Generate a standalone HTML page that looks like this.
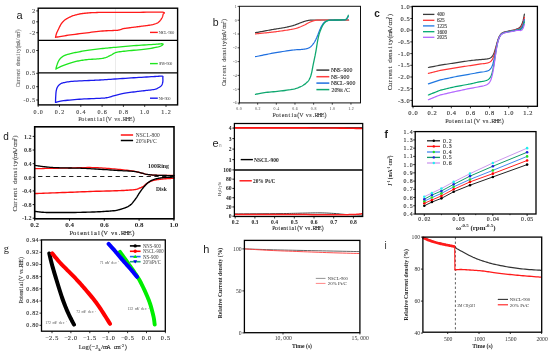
<!DOCTYPE html><html><head><meta charset="utf-8"><style>html,body{margin:0;padding:0;background:#fff;width:550px;height:354px;overflow:hidden}svg{display:block;will-change:transform}</style></head><body>
<svg width="550" height="354" viewBox="0 0 550 354">
<line x1="115.50" y1="8.20" x2="115.50" y2="104.90" stroke="#ddd" stroke-width="0.6" />
<polyline points="55.50,37.30 55.57,37.01 55.66,36.61 55.77,36.15 55.89,35.63 56.03,35.08 56.18,34.53 56.33,34.00 56.50,33.50 56.67,33.04 56.85,32.61 57.04,32.18 57.24,31.75 57.46,31.31 57.69,30.84 57.93,30.34 58.20,29.80 58.49,29.19 58.81,28.52 59.14,27.80 59.49,27.07 59.85,26.34 60.21,25.64 60.56,24.98 60.90,24.40 61.23,23.89 61.55,23.42 61.87,23.00 62.19,22.61 62.51,22.24 62.83,21.89 63.16,21.54 63.50,21.20 63.83,20.87 64.15,20.57 64.46,20.29 64.78,20.02 65.12,19.75 65.49,19.48 65.92,19.20 66.40,18.90 66.96,18.57 67.58,18.23 68.25,17.87 68.96,17.51 69.68,17.15 70.41,16.81 71.12,16.49 71.80,16.20 72.46,15.94 73.10,15.71 73.74,15.50 74.38,15.30 75.02,15.12 75.67,14.94 76.33,14.77 77.00,14.60 77.65,14.44 78.27,14.29 78.87,14.14 79.49,14.01 80.16,13.88 80.90,13.75 81.74,13.62 82.70,13.50 83.78,13.37 84.93,13.24 86.16,13.12 87.48,12.99 88.88,12.88 90.37,12.77 91.94,12.68 93.60,12.60 95.29,12.54 96.99,12.50 98.75,12.47 100.61,12.45 102.61,12.44 104.81,12.43 107.26,12.42 110.00,12.40 113.15,12.38 116.72,12.37 120.58,12.36 124.62,12.34 128.70,12.33 132.71,12.32 136.52,12.31 140.00,12.30 143.32,12.27 146.67,12.22 149.95,12.16 153.09,12.10 156.00,12.06 158.60,12.06 160.79,12.10 162.50,12.20 163.63,12.36 164.21,12.57 164.37,12.83 164.23,13.11 163.90,13.43 163.51,13.77 163.17,14.13 163.00,14.50 162.95,14.89 162.88,15.31 162.78,15.76 162.66,16.22 162.50,16.71 162.31,17.20 162.08,17.70 161.80,18.20 161.48,18.72 161.11,19.28 160.71,19.87 160.27,20.45 159.79,21.02 159.29,21.57 158.76,22.06 158.20,22.50 157.62,22.87 157.01,23.20 156.37,23.49 155.71,23.74 155.01,23.98 154.27,24.19 153.51,24.40 152.70,24.60 151.85,24.79 150.95,24.97 150.01,25.12 149.04,25.26 148.05,25.40 147.04,25.53 146.02,25.66 145.00,25.80 143.97,25.94 142.91,26.08 141.83,26.22 140.74,26.36 139.65,26.49 138.56,26.63 137.47,26.76 136.40,26.90 135.31,27.04 134.19,27.19 133.06,27.33 131.94,27.48 130.85,27.62 129.81,27.76 128.86,27.89 128.00,28.00 127.26,28.09 126.62,28.17 126.07,28.23 125.56,28.28 125.09,28.34 124.62,28.41 124.13,28.49 123.60,28.60 123.03,28.74 122.44,28.92 121.84,29.11 121.24,29.31 120.65,29.51 120.08,29.70 119.52,29.87 119.00,30.00 118.57,30.10 118.27,30.17 118.02,30.21 117.76,30.25 117.45,30.28 117.00,30.31 116.38,30.35 115.50,30.40 114.38,30.46 113.08,30.50 111.62,30.54 110.02,30.59 108.30,30.66 106.50,30.74 104.62,30.85 102.70,31.00 100.68,31.19 98.53,31.41 96.27,31.66 93.93,31.94 91.55,32.22 89.17,32.52 86.81,32.81 84.50,33.10 82.18,33.39 79.80,33.69 77.39,34.00 74.99,34.32 72.66,34.63 70.42,34.94 68.32,35.23 66.40,35.50 64.62,35.77 62.91,36.03 61.31,36.30 59.82,36.55 58.47,36.78 57.29,36.99 56.29,37.17 55.50,37.30" fill="none" stroke="#ff1a1a" stroke-width="1.3" stroke-linejoin="round" stroke-linecap="round" />
<polyline points="55.80,69.10 55.86,68.88 55.93,68.60 56.02,68.27 56.11,67.90 56.22,67.50 56.34,67.07 56.47,66.63 56.60,66.20 56.74,65.75 56.89,65.26 57.05,64.75 57.23,64.23 57.40,63.70 57.59,63.18 57.79,62.67 58.00,62.20 58.21,61.75 58.43,61.31 58.66,60.88 58.90,60.46 59.15,60.06 59.42,59.66 59.70,59.27 60.00,58.90 60.32,58.53 60.67,58.17 61.03,57.83 61.41,57.49 61.80,57.16 62.20,56.86 62.60,56.57 63.00,56.30 63.40,56.06 63.80,55.84 64.20,55.64 64.61,55.46 65.03,55.29 65.46,55.13 65.92,54.97 66.40,54.80 66.91,54.63 67.45,54.48 68.00,54.32 68.58,54.17 69.16,54.03 69.74,53.89 70.33,53.74 70.90,53.60 71.42,53.46 71.87,53.34 72.30,53.22 72.74,53.11 73.24,52.98 73.84,52.84 74.58,52.68 75.50,52.50 76.61,52.28 77.86,52.04 79.24,51.78 80.72,51.50 82.29,51.22 83.93,50.93 85.60,50.66 87.30,50.40 89.07,50.15 90.96,49.89 92.93,49.64 94.94,49.39 96.96,49.15 98.95,48.92 100.87,48.70 102.70,48.50 104.37,48.32 105.89,48.16 107.33,48.03 108.76,47.89 110.22,47.76 111.79,47.63 113.53,47.47 115.50,47.30 117.74,47.10 120.21,46.88 122.85,46.64 125.59,46.40 128.38,46.16 131.15,45.92 133.84,45.70 136.40,45.50 138.91,45.32 141.47,45.14 144.03,44.98 146.54,44.82 148.94,44.67 151.18,44.54 153.22,44.41 155.00,44.30 156.52,44.19 157.84,44.08 158.97,43.98 159.93,43.89 160.75,43.82 161.43,43.77 162.01,43.77 162.50,43.80 162.86,43.88 163.06,44.01 163.12,44.17 163.07,44.36 162.93,44.57 162.72,44.78 162.47,45.00 162.20,45.20 161.94,45.39 161.66,45.59 161.35,45.79 160.97,46.00 160.50,46.21 159.90,46.43 159.14,46.66 158.20,46.90 157.07,47.15 155.77,47.42 154.32,47.71 152.74,47.99 151.05,48.28 149.27,48.57 147.41,48.84 145.50,49.10 143.44,49.35 141.17,49.59 138.76,49.82 136.29,50.04 133.83,50.26 131.47,50.48 129.26,50.69 127.30,50.90 125.55,51.09 123.94,51.27 122.44,51.43 121.06,51.59 119.77,51.76 118.57,51.94 117.45,52.15 116.40,52.40 115.45,52.69 114.64,53.02 113.94,53.37 113.31,53.74 112.72,54.12 112.14,54.50 111.55,54.86 110.90,55.20 110.22,55.53 109.55,55.86 108.87,56.19 108.20,56.51 107.53,56.81 106.85,57.10 106.18,57.36 105.50,57.60 104.87,57.80 104.30,57.97 103.76,58.12 103.21,58.24 102.59,58.36 101.88,58.47 101.03,58.58 100.00,58.70 98.73,58.82 97.25,58.93 95.62,59.03 93.89,59.13 92.13,59.23 90.40,59.34 88.77,59.46 87.30,59.60 85.96,59.75 84.68,59.90 83.47,60.07 82.30,60.24 81.18,60.42 80.09,60.60 79.03,60.80 78.00,61.00 77.00,61.21 76.04,61.44 75.12,61.68 74.24,61.92 73.38,62.17 72.54,62.41 71.72,62.66 70.90,62.90 70.10,63.14 69.32,63.37 68.56,63.60 67.82,63.84 67.09,64.07 66.38,64.31 65.69,64.55 65.00,64.80 64.32,65.06 63.64,65.33 62.97,65.60 62.32,65.88 61.69,66.15 61.09,66.41 60.52,66.66 60.00,66.90 59.52,67.12 59.07,67.34 58.65,67.54 58.26,67.74 57.91,67.92 57.58,68.10 57.28,68.25 57.00,68.40 56.76,68.53 56.55,68.65 56.37,68.75 56.21,68.84 56.08,68.92 55.97,68.99 55.88,69.05 55.80,69.10" fill="none" stroke="#1ee61e" stroke-width="1.3" stroke-linejoin="round" stroke-linecap="round" />
<polyline points="55.50,102.40 55.51,101.99 55.53,101.44 55.55,100.80 55.57,100.08 55.59,99.31 55.62,98.52 55.66,97.74 55.70,97.00 55.74,96.27 55.79,95.50 55.83,94.71 55.88,93.91 55.94,93.13 56.01,92.37 56.10,91.66 56.20,91.00 56.32,90.40 56.44,89.83 56.58,89.30 56.73,88.80 56.89,88.32 57.07,87.87 57.27,87.43 57.50,87.00 57.75,86.58 58.01,86.19 58.30,85.80 58.61,85.44 58.93,85.10 59.27,84.78 59.63,84.48 60.00,84.20 60.36,83.95 60.69,83.73 61.03,83.54 61.39,83.36 61.80,83.20 62.29,83.04 62.88,82.87 63.60,82.70 64.41,82.52 65.28,82.33 66.21,82.15 67.24,81.96 68.38,81.78 69.66,81.61 71.09,81.45 72.70,81.30 74.60,81.16 76.82,81.03 79.26,80.90 81.80,80.79 84.34,80.68 86.78,80.58 89.00,80.49 90.90,80.40 92.43,80.33 93.68,80.28 94.72,80.24 95.65,80.21 96.56,80.17 97.52,80.13 98.64,80.08 100.00,80.00 101.55,79.91 103.19,79.80 104.91,79.69 106.73,79.56 108.65,79.43 110.66,79.29 112.78,79.15 115.00,79.00 117.39,78.84 119.97,78.67 122.68,78.49 125.47,78.31 128.30,78.12 131.10,77.94 133.82,77.76 136.40,77.60 138.94,77.44 141.51,77.29 144.08,77.13 146.58,76.98 148.98,76.84 151.21,76.71 153.23,76.60 155.00,76.50 156.50,76.41 157.78,76.32 158.86,76.24 159.78,76.17 160.56,76.12 161.22,76.11 161.79,76.13 162.30,76.20 162.69,76.31 162.91,76.46 163.01,76.63 163.01,76.84 162.95,77.09 162.87,77.36 162.81,77.66 162.80,78.00 162.83,78.38 162.87,78.81 162.89,79.28 162.91,79.78 162.92,80.29 162.90,80.81 162.87,81.32 162.80,81.80 162.71,82.28 162.62,82.76 162.50,83.25 162.37,83.73 162.21,84.20 162.01,84.66 161.78,85.10 161.50,85.50 161.17,85.88 160.78,86.24 160.35,86.57 159.89,86.89 159.41,87.20 158.93,87.48 158.45,87.75 158.00,88.00 157.60,88.23 157.27,88.43 156.95,88.61 156.62,88.78 156.25,88.94 155.80,89.09 155.22,89.24 154.50,89.40 153.59,89.56 152.53,89.72 151.34,89.87 150.07,90.03 148.76,90.17 147.45,90.32 146.19,90.46 145.00,90.60 143.91,90.73 142.89,90.85 141.89,90.95 140.91,91.06 139.89,91.18 138.82,91.30 137.67,91.44 136.40,91.60 134.97,91.79 133.39,91.99 131.70,92.21 129.97,92.44 128.24,92.68 126.57,92.92 125.00,93.16 123.60,93.40 122.36,93.63 121.25,93.86 120.22,94.09 119.26,94.32 118.34,94.55 117.42,94.79 116.49,95.04 115.50,95.30 114.47,95.58 113.44,95.88 112.39,96.20 111.35,96.52 110.31,96.84 109.29,97.13 108.28,97.39 107.30,97.60 106.42,97.76 105.67,97.89 104.98,97.98 104.28,98.04 103.50,98.10 102.57,98.16 101.43,98.22 100.00,98.30 98.25,98.39 96.22,98.47 93.97,98.56 91.58,98.64 89.10,98.74 86.61,98.84 84.15,98.96 81.80,99.10 79.46,99.26 77.01,99.44 74.53,99.64 72.07,99.84 69.69,100.06 67.44,100.27 65.39,100.49 63.60,100.70 62.05,100.92 60.67,101.16 59.47,101.40 58.41,101.65 57.50,101.88 56.72,102.09 56.06,102.27 55.50,102.40" fill="none" stroke="#1a1aee" stroke-width="1.3" stroke-linejoin="round" stroke-linecap="round" />
<rect x="38.20" y="8.20" width="139.40" height="96.70" fill="none" stroke="#000" stroke-width="1.4"/>
<line x1="38.20" y1="40.40" x2="177.60" y2="40.40" stroke="#000" stroke-width="1.4" />
<line x1="38.20" y1="72.90" x2="177.60" y2="72.90" stroke="#000" stroke-width="1.4" />
<line x1="36.20" y1="10.90" x2="38.20" y2="10.90" stroke="#000" stroke-width="0.8" />
<text font-family='"Liberation Serif", serif' font-size="5.8" fill="#444" stroke="#444" stroke-width="0.14" font-weight="normal" text-anchor="middle"><tspan x="33.65" y="12.90" font-size="5.80">2</tspan></text>
<line x1="36.20" y1="21.80" x2="38.20" y2="21.80" stroke="#000" stroke-width="0.8" />
<text font-family='"Liberation Serif", serif' font-size="5.8" fill="#444" stroke="#444" stroke-width="0.14" font-weight="normal" text-anchor="middle"><tspan x="33.65" y="23.80" font-size="5.80">0</tspan></text>
<line x1="36.20" y1="32.70" x2="38.20" y2="32.70" stroke="#000" stroke-width="0.8" />
<text font-family='"Liberation Serif", serif' font-size="5.8" fill="#444" stroke="#444" stroke-width="0.14" font-weight="normal" text-anchor="middle"><tspan x="30.55 33.65" y="34.70" font-size="5.80">-2</tspan></text>
<line x1="36.20" y1="50.50" x2="38.20" y2="50.50" stroke="#000" stroke-width="0.8" />
<text font-family='"Liberation Serif", serif' font-size="5.8" fill="#444" stroke="#444" stroke-width="0.14" font-weight="normal" text-anchor="middle"><tspan x="27.45 30.55 33.65" y="52.50" font-size="5.80">0.0</tspan></text>
<line x1="36.20" y1="73.30" x2="38.20" y2="73.30" stroke="#000" stroke-width="0.8" />
<text font-family='"Liberation Serif", serif' font-size="5.8" fill="#444" stroke="#444" stroke-width="0.14" font-weight="normal" text-anchor="middle"><tspan x="27.45 30.55 33.65" y="75.30" font-size="5.80">0.5</tspan></text>
<line x1="36.20" y1="86.70" x2="38.20" y2="86.70" stroke="#000" stroke-width="0.8" />
<text font-family='"Liberation Serif", serif' font-size="5.8" fill="#444" stroke="#444" stroke-width="0.14" font-weight="normal" text-anchor="middle"><tspan x="27.45 30.55 33.65" y="88.70" font-size="5.80">0.0</tspan></text>
<line x1="36.20" y1="100.00" x2="38.20" y2="100.00" stroke="#000" stroke-width="0.8" />
<text font-family='"Liberation Serif", serif' font-size="5.8" fill="#444" stroke="#444" stroke-width="0.14" font-weight="normal" text-anchor="middle"><tspan x="24.35 27.45 30.55 33.65" y="102.00" font-size="5.80">-0.5</tspan></text>
<line x1="38.20" y1="104.90" x2="38.20" y2="106.90" stroke="#000" stroke-width="0.8" />
<text font-family='"Liberation Serif", serif' font-size="6" fill="#444" stroke="#444" stroke-width="0.14" font-weight="normal" text-anchor="middle"><tspan x="35.07 38.20 41.33" y="113.70" font-size="6.00">0.0</tspan></text>
<line x1="59.50" y1="104.90" x2="59.50" y2="106.90" stroke="#000" stroke-width="0.8" />
<text font-family='"Liberation Serif", serif' font-size="6" fill="#444" stroke="#444" stroke-width="0.14" font-weight="normal" text-anchor="middle"><tspan x="56.37 59.50 62.63" y="113.70" font-size="6.00">0.2</tspan></text>
<line x1="80.80" y1="104.90" x2="80.80" y2="106.90" stroke="#000" stroke-width="0.8" />
<text font-family='"Liberation Serif", serif' font-size="6" fill="#444" stroke="#444" stroke-width="0.14" font-weight="normal" text-anchor="middle"><tspan x="77.67 80.80 83.93" y="113.70" font-size="6.00">0.4</tspan></text>
<line x1="102.10" y1="104.90" x2="102.10" y2="106.90" stroke="#000" stroke-width="0.8" />
<text font-family='"Liberation Serif", serif' font-size="6" fill="#444" stroke="#444" stroke-width="0.14" font-weight="normal" text-anchor="middle"><tspan x="98.97 102.10 105.23" y="113.70" font-size="6.00">0.6</tspan></text>
<line x1="123.40" y1="104.90" x2="123.40" y2="106.90" stroke="#000" stroke-width="0.8" />
<text font-family='"Liberation Serif", serif' font-size="6" fill="#444" stroke="#444" stroke-width="0.14" font-weight="normal" text-anchor="middle"><tspan x="120.27 123.40 126.53" y="113.70" font-size="6.00">0.8</tspan></text>
<line x1="144.70" y1="104.90" x2="144.70" y2="106.90" stroke="#000" stroke-width="0.8" />
<text font-family='"Liberation Serif", serif' font-size="6" fill="#444" stroke="#444" stroke-width="0.14" font-weight="normal" text-anchor="middle"><tspan x="141.57 144.70 147.83" y="113.70" font-size="6.00">1.0</tspan></text>
<line x1="166.00" y1="104.90" x2="166.00" y2="106.90" stroke="#000" stroke-width="0.8" />
<text font-family='"Liberation Serif", serif' font-size="6" fill="#444" stroke="#444" stroke-width="0.14" font-weight="normal" text-anchor="middle"><tspan x="162.87 166.00 169.13" y="113.70" font-size="6.00">1.2</tspan></text>
<text font-family='"Liberation Serif", serif' font-size="6.2" fill="#555" stroke="#555" stroke-width="0.14" font-weight="normal" text-anchor="middle"><tspan x="79.89 82.88 85.87 88.86 91.85 94.84 97.83 100.82 103.81 106.80 109.79 115.77 118.76 121.75 124.74 127.73 130.72 133.71" y="121.20" font-size="6.20">Potential(Vvs.RHE)</tspan></text>
<text transform="translate(20.30,57.80) rotate(-90)" font-family='"Liberation Serif", serif' font-size="5.6" fill="#777" stroke="#777" stroke-width="0.14" font-weight="normal" text-anchor="middle"><tspan x="-27.62 -25.06 -22.51 -19.95 -17.39 -14.83 -12.28 -7.16 -4.60 -2.05 0.51 3.07 5.63 8.18 10.74 13.30 15.86 18.41 20.97 23.53" y="0.00" font-size="5.60">Currentdensity(mA/cm</tspan><tspan x="25.58" y="-2.20" font-size="3.36">2</tspan><tspan x="27.62" y="0.00" font-size="5.60">)</tspan></text>
<text x="16.50" y="18.80" font-family='"Liberation Sans", sans-serif' font-size="11" fill="#222" text-anchor="start" font-weight="normal" >a</text>
<line x1="150.00" y1="32.40" x2="157.80" y2="32.40" stroke="#ff1a1a" stroke-width="1.4" />
<text font-family='"Liberation Serif", serif' font-size="4.6" fill="#555" font-weight="normal" text-anchor="middle"><tspan x="160.12 161.97 163.82 165.67 167.52 169.37 171.22 173.07" y="34.00" font-size="4.60">NSCL-900</tspan></text>
<line x1="150.00" y1="63.60" x2="157.80" y2="63.60" stroke="#1ee61e" stroke-width="1.4" />
<text font-family='"Liberation Serif", serif' font-size="4.6" fill="#555" font-weight="normal" text-anchor="middle"><tspan x="160.12 161.97 163.82 165.67 167.52 169.37 171.22" y="65.20" font-size="4.60">SNS-900</tspan></text>
<line x1="150.00" y1="98.20" x2="157.80" y2="98.20" stroke="#1a1aee" stroke-width="1.4" />
<text font-family='"Liberation Serif", serif' font-size="4.6" fill="#555" font-weight="normal" text-anchor="middle"><tspan x="160.12 161.97 163.82 165.67 167.52 169.37" y="99.80" font-size="4.60">NS-900</tspan></text>
<polyline points="255.50,32.70 256.07,32.59 256.82,32.45 257.71,32.29 258.70,32.10 259.76,31.90 260.86,31.70 261.95,31.49 263.00,31.30 264.05,31.11 265.15,30.90 266.28,30.70 267.42,30.49 268.56,30.28 269.68,30.08 270.77,29.88 271.80,29.70 272.78,29.53 273.74,29.37 274.67,29.21 275.58,29.06 276.46,28.92 277.32,28.78 278.17,28.64 279.00,28.50 279.81,28.37 280.61,28.24 281.38,28.11 282.14,27.99 282.88,27.87 283.60,27.75 284.31,27.63 285.00,27.50 285.68,27.37 286.34,27.23 286.99,27.09 287.62,26.96 288.24,26.82 288.84,26.68 289.43,26.54 290.00,26.40 290.55,26.26 291.08,26.13 291.60,26.00 292.09,25.86 292.58,25.73 293.06,25.59 293.53,25.45 294.00,25.30 294.46,25.15 294.91,24.99 295.35,24.83 295.78,24.67 296.21,24.50 296.64,24.34 297.07,24.17 297.50,24.00 297.94,23.83 298.38,23.65 298.81,23.47 299.25,23.29 299.69,23.11 300.12,22.94 300.56,22.77 301.00,22.60 301.44,22.44 301.88,22.28 302.31,22.12 302.75,21.97 303.19,21.82 303.62,21.67 304.06,21.53 304.50,21.40 304.94,21.27 305.38,21.14 305.81,21.02 306.25,20.90 306.69,20.79 307.12,20.68 307.56,20.59 308.00,20.50 308.40,20.42 308.76,20.36 309.09,20.30 309.44,20.25 309.82,20.21 310.27,20.17 310.82,20.13 311.50,20.10 312.19,20.07 312.80,20.05 313.44,20.04 314.18,20.03 315.12,20.02 316.34,20.01 317.94,20.01 320.00,20.00 322.81,20.00 326.41,19.99 330.51,19.99 334.83,19.99 339.09,20.00 342.99,20.00 346.26,20.00 348.60,20.00" fill="none" stroke="#3a3a3a" stroke-width="1.2" stroke-linejoin="round" stroke-linecap="round" />
<polyline points="255.50,33.90 256.07,33.84 256.82,33.76 257.71,33.66 258.70,33.56 259.76,33.44 260.86,33.33 261.95,33.21 263.00,33.10 264.04,32.99 265.10,32.89 266.19,32.78 267.29,32.68 268.41,32.56 269.54,32.45 270.67,32.33 271.80,32.20 272.93,32.07 274.06,31.93 275.20,31.79 276.34,31.64 277.50,31.49 278.66,31.33 279.82,31.17 281.00,31.00 282.22,30.82 283.50,30.63 284.82,30.44 286.13,30.24 287.40,30.04 288.61,29.85 289.72,29.67 290.70,29.50 291.54,29.35 292.26,29.22 292.89,29.10 293.46,28.99 293.97,28.88 294.47,28.76 294.97,28.64 295.50,28.50 296.03,28.36 296.54,28.21 297.04,28.06 297.52,27.91 298.00,27.74 298.48,27.57 298.98,27.39 299.50,27.20 300.04,26.99 300.60,26.78 301.16,26.55 301.74,26.31 302.31,26.07 302.88,25.82 303.45,25.56 304.00,25.30 304.55,25.03 305.10,24.73 305.65,24.43 306.19,24.12 306.72,23.81 307.23,23.52 307.73,23.25 308.20,23.00 308.64,22.78 309.06,22.57 309.46,22.39 309.84,22.21 310.22,22.05 310.58,21.89 310.94,21.74 311.30,21.60 311.65,21.46 311.96,21.33 312.27,21.21 312.57,21.10 312.88,20.99 313.21,20.89 313.58,20.79 314.00,20.70 314.42,20.61 314.81,20.52 315.21,20.43 315.64,20.35 316.15,20.28 316.75,20.21 317.49,20.15 318.40,20.10 319.46,20.06 320.63,20.04 321.92,20.02 323.31,20.01 324.82,20.01 326.44,20.01 328.17,20.00 330.00,20.00 332.12,20.00 334.59,19.99 337.28,19.99 340.02,19.99 342.68,20.00 345.09,20.00 347.12,20.00 348.60,20.00" fill="none" stroke="#ff4040" stroke-width="1.2" stroke-linejoin="round" stroke-linecap="round" />
<polyline points="255.50,56.70 256.38,56.51 257.55,56.26 258.94,55.97 260.49,55.64 262.14,55.29 263.81,54.94 265.46,54.61 267.00,54.30 268.47,54.01 269.93,53.73 271.39,53.46 272.86,53.18 274.36,52.91 275.89,52.64 277.47,52.37 279.10,52.10 280.85,51.82 282.72,51.53 284.67,51.23 286.64,50.94 288.58,50.67 290.42,50.41 292.11,50.19 293.60,50.00 294.89,49.86 296.02,49.76 297.03,49.70 297.94,49.65 298.76,49.62 299.53,49.59 300.27,49.55 301.00,49.50 301.70,49.44 302.33,49.38 302.91,49.32 303.44,49.26 303.94,49.20 304.41,49.14 304.86,49.07 305.30,49.00 305.72,48.93 306.10,48.85 306.45,48.77 306.78,48.69 307.09,48.61 307.40,48.51 307.70,48.41 308.00,48.30 308.30,48.18 308.59,48.05 308.88,47.91 309.16,47.76 309.43,47.61 309.69,47.45 309.95,47.28 310.20,47.10 310.45,46.91 310.68,46.72 310.91,46.52 311.14,46.31 311.36,46.09 311.57,45.86 311.79,45.64 312.00,45.40 312.21,45.16 312.42,44.90 312.62,44.64 312.83,44.37 313.02,44.11 313.22,43.83 313.41,43.57 313.60,43.30 313.79,43.04 313.97,42.78 314.15,42.53 314.33,42.27 314.50,42.01 314.67,41.75 314.84,41.48 315.00,41.20 315.16,40.92 315.31,40.63 315.46,40.34 315.61,40.04 315.76,39.74 315.90,39.44 316.05,39.12 316.20,38.80 316.35,38.47 316.50,38.12 316.66,37.77 316.81,37.41 316.96,37.05 317.11,36.70 317.26,36.34 317.40,36.00 317.53,35.67 317.65,35.36 317.77,35.05 317.89,34.75 318.00,34.44 318.13,34.12 318.26,33.77 318.40,33.40 318.56,33.00 318.72,32.56 318.89,32.11 319.07,31.64 319.25,31.16 319.43,30.70 319.62,30.24 319.80,29.80 319.98,29.38 320.17,28.95 320.36,28.54 320.54,28.12 320.73,27.72 320.92,27.33 321.11,26.96 321.30,26.60 321.49,26.26 321.68,25.93 321.87,25.62 322.06,25.31 322.24,25.02 322.43,24.74 322.62,24.47 322.80,24.20 322.97,23.94 323.14,23.69 323.30,23.45 323.46,23.22 323.63,23.00 323.80,22.79 323.99,22.59 324.20,22.40 324.43,22.22 324.67,22.05 324.93,21.88 325.20,21.73 325.47,21.59 325.75,21.45 326.03,21.32 326.30,21.20 326.56,21.09 326.81,20.98 327.06,20.89 327.31,20.80 327.58,20.72 327.86,20.64 328.16,20.57 328.50,20.50 328.84,20.43 329.18,20.37 329.52,20.31 329.89,20.26 330.30,20.21 330.78,20.17 331.34,20.13 332.00,20.10 332.81,20.07 333.77,20.06 334.82,20.04 335.94,20.04 337.06,20.03 338.14,20.03 339.14,20.02 340.00,20.00 340.75,19.99 341.42,19.98 342.04,19.97 342.61,19.96 343.13,19.94 343.62,19.91 344.07,19.86 344.50,19.80 344.89,19.72 345.23,19.64 345.52,19.54 345.78,19.43 346.02,19.31 346.25,19.16 346.47,18.99 346.70,18.80 346.94,18.56 347.18,18.26 347.41,17.93 347.64,17.59 347.84,17.25 348.03,16.94 348.18,16.69 348.30,16.50" fill="none" stroke="#1f6fe0" stroke-width="1.2" stroke-linejoin="round" stroke-linecap="round" />
<polyline points="255.50,94.30 256.16,94.17 256.99,93.99 257.97,93.77 259.09,93.54 260.32,93.29 261.65,93.04 263.05,92.81 264.50,92.60 266.06,92.42 267.76,92.25 269.57,92.08 271.46,91.92 273.39,91.76 275.33,91.59 277.24,91.41 279.10,91.20 280.97,90.97 282.90,90.74 284.86,90.49 286.81,90.23 288.69,89.95 290.48,89.68 292.13,89.39 293.60,89.10 294.88,88.79 296.03,88.47 297.04,88.13 297.95,87.79 298.77,87.45 299.52,87.11 300.23,86.79 300.90,86.50 301.51,86.23 302.02,85.98 302.47,85.74 302.85,85.51 303.20,85.29 303.52,85.07 303.85,84.84 304.20,84.60 304.55,84.36 304.89,84.12 305.21,83.87 305.52,83.63 305.83,83.38 306.12,83.13 306.41,82.87 306.70,82.60 306.99,82.33 307.26,82.05 307.54,81.77 307.81,81.48 308.07,81.18 308.32,80.87 308.56,80.55 308.80,80.20 309.03,79.84 309.24,79.45 309.45,79.06 309.66,78.65 309.85,78.23 310.04,77.80 310.22,77.35 310.40,76.90 310.57,76.44 310.74,75.96 310.89,75.48 311.04,74.98 311.19,74.47 311.33,73.96 311.47,73.43 311.60,72.90 311.73,72.35 311.85,71.78 311.96,71.20 312.07,70.61 312.18,70.01 312.29,69.43 312.39,68.86 312.50,68.30 312.61,67.76 312.71,67.22 312.81,66.70 312.91,66.18 313.01,65.66 313.11,65.16 313.21,64.68 313.30,64.20 313.39,63.74 313.48,63.31 313.57,62.89 313.65,62.48 313.73,62.07 313.82,61.66 313.91,61.24 314.00,60.80 314.10,60.34 314.20,59.87 314.30,59.39 314.40,58.91 314.50,58.42 314.60,57.94 314.70,57.46 314.80,57.00 314.89,56.55 314.98,56.13 315.07,55.71 315.15,55.29 315.23,54.87 315.32,54.44 315.41,53.98 315.50,53.50 315.60,52.98 315.70,52.43 315.80,51.85 315.91,51.27 316.01,50.68 316.11,50.10 316.21,49.54 316.30,49.00 316.38,48.50 316.46,48.02 316.53,47.56 316.60,47.11 316.67,46.66 316.74,46.20 316.82,45.71 316.90,45.20 316.99,44.65 317.08,44.08 317.18,43.49 317.28,42.88 317.38,42.27 317.49,41.67 317.59,41.07 317.70,40.50 317.81,39.94 317.92,39.37 318.03,38.81 318.14,38.26 318.26,37.71 318.37,37.19 318.49,36.68 318.60,36.20 318.71,35.75 318.82,35.32 318.92,34.92 319.03,34.53 319.14,34.15 319.25,33.77 319.37,33.39 319.50,33.00 319.63,32.60 319.78,32.20 319.92,31.79 320.07,31.39 320.23,30.99 320.39,30.59 320.54,30.19 320.70,29.80 320.86,29.41 321.01,29.03 321.17,28.65 321.32,28.27 321.49,27.90 321.65,27.53 321.82,27.16 322.00,26.80 322.18,26.44 322.37,26.07 322.56,25.71 322.76,25.35 322.96,25.00 323.16,24.65 323.38,24.32 323.60,24.00 323.83,23.69 324.07,23.38 324.33,23.08 324.58,22.79 324.84,22.52 325.10,22.26 325.35,22.02 325.60,21.80 325.84,21.61 326.08,21.43 326.32,21.28 326.56,21.14 326.80,21.02 327.03,20.91 327.27,20.80 327.50,20.70 327.70,20.61 327.87,20.53 328.01,20.46 328.16,20.39 328.34,20.34 328.58,20.29 328.89,20.24 329.30,20.20 329.80,20.16 330.36,20.13 330.99,20.10 331.68,20.07 332.42,20.05 333.22,20.04 334.08,20.02 335.00,20.00 336.05,19.99 337.27,19.98 338.60,19.98 339.96,19.98 341.28,19.98 342.51,19.96 343.57,19.94 344.40,19.90 344.98,19.85 345.36,19.79 345.58,19.73 345.71,19.65 345.76,19.56 345.80,19.46 345.87,19.34 346.00,19.20 346.18,19.04 346.35,18.86 346.52,18.66 346.69,18.44 346.85,18.22 347.00,17.98 347.15,17.74 347.30,17.50 347.45,17.23 347.59,16.93 347.74,16.61 347.88,16.29 348.01,15.99 348.13,15.71 348.22,15.47 348.30,15.30" fill="none" stroke="#10a870" stroke-width="1.3" stroke-linejoin="round" stroke-linecap="round" />
<rect x="239.40" y="6.30" width="121.10" height="96.60" fill="none" stroke="#111" stroke-width="1.0"/>
<line x1="237.60" y1="6.40" x2="239.40" y2="6.40" stroke="#000" stroke-width="0.7" />
<text font-family='"Liberation Serif", serif' font-size="3.9" fill="#444" font-weight="normal" text-anchor="middle"><tspan x="235.70" y="7.70" font-size="3.90">1</tspan></text>
<line x1="237.60" y1="20.20" x2="239.40" y2="20.20" stroke="#000" stroke-width="0.7" />
<text font-family='"Liberation Serif", serif' font-size="3.9" fill="#444" font-weight="normal" text-anchor="middle"><tspan x="235.70" y="21.50" font-size="3.90">0</tspan></text>
<line x1="237.60" y1="34.00" x2="239.40" y2="34.00" stroke="#000" stroke-width="0.7" />
<text font-family='"Liberation Serif", serif' font-size="3.9" fill="#444" font-weight="normal" text-anchor="middle"><tspan x="233.90 235.70" y="35.30" font-size="3.90">-1</tspan></text>
<line x1="237.60" y1="47.80" x2="239.40" y2="47.80" stroke="#000" stroke-width="0.7" />
<text font-family='"Liberation Serif", serif' font-size="3.9" fill="#444" font-weight="normal" text-anchor="middle"><tspan x="233.90 235.70" y="49.10" font-size="3.90">-2</tspan></text>
<line x1="237.60" y1="61.60" x2="239.40" y2="61.60" stroke="#000" stroke-width="0.7" />
<text font-family='"Liberation Serif", serif' font-size="3.9" fill="#444" font-weight="normal" text-anchor="middle"><tspan x="233.90 235.70" y="62.90" font-size="3.90">-3</tspan></text>
<line x1="237.60" y1="75.40" x2="239.40" y2="75.40" stroke="#000" stroke-width="0.7" />
<text font-family='"Liberation Serif", serif' font-size="3.9" fill="#444" font-weight="normal" text-anchor="middle"><tspan x="233.90 235.70" y="76.70" font-size="3.90">-4</tspan></text>
<line x1="237.60" y1="89.20" x2="239.40" y2="89.20" stroke="#000" stroke-width="0.7" />
<text font-family='"Liberation Serif", serif' font-size="3.9" fill="#444" font-weight="normal" text-anchor="middle"><tspan x="233.90 235.70" y="90.50" font-size="3.90">-5</tspan></text>
<line x1="237.60" y1="103.00" x2="239.40" y2="103.00" stroke="#000" stroke-width="0.7" />
<text font-family='"Liberation Serif", serif' font-size="3.9" fill="#444" font-weight="normal" text-anchor="middle"><tspan x="233.90 235.70" y="104.30" font-size="3.90">-6</tspan></text>
<line x1="239.00" y1="102.90" x2="239.00" y2="104.70" stroke="#000" stroke-width="0.7" />
<text font-family='"Liberation Serif", serif' font-size="3.9" fill="#444" font-weight="normal" text-anchor="middle"><tspan x="237.20 239.00 240.80" y="109.80" font-size="3.90">0.0</tspan></text>
<line x1="257.66" y1="102.90" x2="257.66" y2="104.70" stroke="#000" stroke-width="0.7" />
<text font-family='"Liberation Serif", serif' font-size="3.9" fill="#444" font-weight="normal" text-anchor="middle"><tspan x="255.86 257.66 259.46" y="109.80" font-size="3.90">0.2</tspan></text>
<line x1="276.32" y1="102.90" x2="276.32" y2="104.70" stroke="#000" stroke-width="0.7" />
<text font-family='"Liberation Serif", serif' font-size="3.9" fill="#444" font-weight="normal" text-anchor="middle"><tspan x="274.52 276.32 278.12" y="109.80" font-size="3.90">0.4</tspan></text>
<line x1="294.98" y1="102.90" x2="294.98" y2="104.70" stroke="#000" stroke-width="0.7" />
<text font-family='"Liberation Serif", serif' font-size="3.9" fill="#444" font-weight="normal" text-anchor="middle"><tspan x="293.18 294.98 296.78" y="109.80" font-size="3.90">0.6</tspan></text>
<line x1="313.64" y1="102.90" x2="313.64" y2="104.70" stroke="#000" stroke-width="0.7" />
<text font-family='"Liberation Serif", serif' font-size="3.9" fill="#444" font-weight="normal" text-anchor="middle"><tspan x="311.84 313.64 315.44" y="109.80" font-size="3.90">0.8</tspan></text>
<line x1="332.30" y1="102.90" x2="332.30" y2="104.70" stroke="#000" stroke-width="0.7" />
<text font-family='"Liberation Serif", serif' font-size="3.9" fill="#444" font-weight="normal" text-anchor="middle"><tspan x="330.50 332.30 334.10" y="109.80" font-size="3.90">1.0</tspan></text>
<line x1="350.96" y1="102.90" x2="350.96" y2="104.70" stroke="#000" stroke-width="0.7" />
<text font-family='"Liberation Serif", serif' font-size="3.9" fill="#444" font-weight="normal" text-anchor="middle"><tspan x="349.16 350.96 352.76" y="109.80" font-size="3.90">1.2</tspan></text>
<text font-family='"Liberation Serif", serif' font-size="6" fill="#444" stroke="#444" stroke-width="0.14" font-weight="normal" text-anchor="middle"><tspan x="274.11 277.13 280.16 283.18 286.20 289.22 292.24 295.27 298.29 301.31 307.36 310.38 313.40 316.42 319.44 322.47 325.49" y="117.20" font-size="6.00">Potentia(Vvs.RHE)</tspan></text>
<text transform="translate(226.00,52.00) rotate(-90)" font-family='"Liberation Serif", serif' font-size="6" fill="#555" stroke="#555" stroke-width="0.14" font-weight="normal" text-anchor="middle"><tspan x="-31.92 -28.97 -26.01 -23.05 -20.10 -17.14 -14.19 -8.28 -5.32 -2.36 0.59 3.55 6.50 9.46 12.41 15.37 18.33 21.28 24.24 27.19" y="0.00" font-size="6.00">Currentdensity(mA/cm</tspan><tspan x="29.56" y="-2.20" font-size="3.60">2</tspan><tspan x="31.92" y="0.00" font-size="6.00">)</tspan></text>
<text x="212.80" y="26.10" font-family='"Liberation Sans", sans-serif' font-size="10.5" fill="#222" text-anchor="start" font-weight="normal" >b</text>
<line x1="316.40" y1="70.10" x2="329.30" y2="70.10" stroke="#3a3a3a" stroke-width="1.5" />
<text font-family='"Liberation Serif", serif' font-size="5.8" fill="#333" stroke="#333" stroke-width="0.14" font-weight="normal" text-anchor="middle"><tspan x="333.00 336.00 339.00 342.00 345.00 348.00 351.00" y="72.20" font-size="5.80">NNS-900</tspan></text>
<line x1="316.40" y1="76.70" x2="329.30" y2="76.70" stroke="#ff4040" stroke-width="1.5" />
<text font-family='"Liberation Serif", serif' font-size="5.8" fill="#333" stroke="#333" stroke-width="0.14" font-weight="normal" text-anchor="middle"><tspan x="333.00 336.00 339.00 342.00 345.00 348.00" y="78.80" font-size="5.80">NS-900</tspan></text>
<line x1="316.40" y1="83.10" x2="329.30" y2="83.10" stroke="#1f6fe0" stroke-width="1.5" />
<text font-family='"Liberation Serif", serif' font-size="5.8" fill="#333" stroke="#333" stroke-width="0.14" font-weight="normal" text-anchor="middle"><tspan x="333.00 336.00 339.00 342.00 345.00 348.00 351.00 354.00" y="85.20" font-size="5.80">NSCL-900</tspan></text>
<line x1="316.40" y1="89.60" x2="329.30" y2="89.60" stroke="#10a870" stroke-width="1.5" />
<text font-family='"Liberation Serif", serif' font-size="5.8" fill="#333" stroke="#333" stroke-width="0.14" font-weight="normal" text-anchor="middle"><tspan x="333.00 336.00 339.00 342.00 345.00 348.00" y="91.70" font-size="5.80">20%t/C</tspan></text>
<polyline points="428.40,67.50 429.90,67.20 431.40,66.91 432.90,66.61 434.40,66.31 435.90,66.01 437.40,65.72 438.90,65.42 440.40,65.14 441.90,64.91 443.40,64.68 444.90,64.45 446.40,64.22 447.90,63.99 449.40,63.76 450.90,63.53 452.40,63.30 453.90,63.07 455.40,62.84 456.90,62.61 458.40,62.38 459.90,62.15 461.40,61.92 462.90,61.69 464.40,61.46 465.90,61.23 467.40,61.00 468.90,60.77 470.40,60.56 471.90,60.41 473.40,60.26 474.90,60.11 476.40,59.96 477.90,59.81 479.40,59.66 480.90,59.53 482.40,59.42 483.90,59.29 485.40,59.15 485.80,59.11 486.20,59.06 486.60,59.01 487.00,58.95 487.40,58.88 487.80,58.81 488.20,58.72 488.60,58.63 489.00,58.51 489.40,58.37 489.80,58.21 490.20,58.02 490.60,57.78 491.00,57.51 491.40,57.18 491.80,56.78 492.20,56.31 492.60,55.76 493.00,55.10 493.40,54.34 493.80,53.47 494.20,52.47 494.60,51.34 495.00,50.09 495.40,48.75 495.80,47.34 496.20,45.89 496.60,44.43 497.00,43.00 497.40,41.63 497.80,40.35 498.20,39.18 498.60,38.12 499.00,37.18 499.40,36.35 499.80,35.64 500.20,35.02 500.60,34.49 501.00,34.04 501.40,33.66 501.80,33.33 502.20,33.05 502.60,32.81 503.00,32.59 503.40,32.41 503.80,32.25 504.20,32.11 504.60,31.98 505.00,31.86 505.40,31.75 505.80,31.65 506.20,31.56 507.70,31.24 509.20,30.96 510.70,30.65 512.20,30.32 513.70,29.99 515.20,29.63 515.60,29.48 516.00,29.32 516.40,29.17 516.80,29.01 517.20,28.85 517.60,28.69 518.00,28.52 518.40,28.35 518.80,28.08 519.20,27.76 519.60,27.45 520.00,27.13 520.40,26.81 520.80,26.28 521.20,25.55 521.60,24.82 522.00,24.08 522.40,22.86 522.80,21.64 523.20,20.41 523.60,18.34 524.00,16.27 524.40,14.20" fill="none" stroke="#3a3a3a" stroke-width="1.2" stroke-linejoin="round" stroke-linecap="round" />
<polyline points="428.40,73.40 429.90,73.03 431.40,72.65 432.90,72.27 434.40,71.90 435.90,71.52 437.40,71.15 438.90,70.77 440.40,70.43 441.90,70.17 443.40,69.91 444.90,69.65 446.40,69.39 447.90,69.13 449.40,68.87 450.90,68.61 452.40,68.35 453.90,68.09 455.40,67.84 456.90,67.61 458.40,67.38 459.90,67.15 461.40,66.92 462.90,66.69 464.40,66.46 465.90,66.23 467.40,66.00 468.90,65.77 470.40,65.54 471.90,65.30 473.40,65.06 474.90,64.82 476.40,64.58 477.90,64.33 479.40,64.09 480.90,63.90 482.40,63.74 483.90,63.57 485.40,63.38 485.80,63.32 486.20,63.25 486.60,63.18 487.00,63.10 487.40,63.01 487.80,62.91 488.20,62.79 488.60,62.66 489.00,62.50 489.40,62.32 489.80,62.10 490.20,61.84 490.60,61.53 491.00,61.16 491.40,60.73 491.80,60.21 492.20,59.60 492.60,58.88 493.00,58.04 493.40,57.07 493.80,55.97 494.20,54.73 494.60,53.34 495.00,51.84 495.40,50.25 495.80,48.60 496.20,46.93 496.60,45.29 497.00,43.70 497.40,42.20 497.80,40.81 498.20,39.56 498.60,38.44 499.00,37.46 499.40,36.61 499.80,35.87 500.20,35.24 500.60,34.71 501.00,34.26 501.40,33.87 501.80,33.54 502.20,33.26 502.60,33.02 503.00,32.81 503.40,32.63 503.80,32.47 504.20,32.33 504.60,32.20 505.00,32.09 505.40,31.99 505.80,31.89 506.20,31.80 507.70,31.49 509.20,31.22 510.70,30.92 512.20,30.60 513.70,30.28 515.20,29.93 515.60,29.78 516.00,29.64 516.40,29.51 516.80,29.38 517.20,29.27 517.60,29.15 518.00,29.05 518.40,28.95 518.80,28.76 519.20,28.54 519.60,28.33 520.00,28.13 520.40,27.93 520.80,27.55 521.20,26.97 521.60,26.40 522.00,25.85 522.40,24.81 522.80,23.79 523.20,22.78 523.60,20.94 524.00,19.12 524.40,17.30" fill="none" stroke="#ff3333" stroke-width="1.2" stroke-linejoin="round" stroke-linecap="round" />
<polyline points="428.40,83.90 429.90,83.40 431.40,82.89 432.90,82.39 434.40,81.88 435.90,81.38 437.40,80.87 438.90,80.37 440.40,79.91 441.90,79.59 443.40,79.27 444.90,78.95 446.40,78.63 447.90,78.31 449.40,77.99 450.90,77.67 452.40,77.35 453.90,77.03 455.40,76.73 456.90,76.46 458.40,76.19 459.90,75.92 461.40,75.65 462.90,75.38 464.40,75.11 465.90,74.84 467.40,74.57 468.90,74.30 470.40,74.03 471.90,73.76 473.40,73.49 474.90,73.22 476.40,72.95 477.90,72.68 479.40,72.40 480.90,72.17 482.40,71.97 483.90,71.74 485.40,71.47 485.80,71.38 486.20,71.29 486.60,71.19 487.00,71.07 487.40,70.94 487.80,70.79 488.20,70.62 488.60,70.42 489.00,70.18 489.40,69.90 489.80,69.56 490.20,69.16 490.60,68.69 491.00,68.13 491.40,67.46 491.80,66.67 492.20,65.74 492.60,64.67 493.00,63.42 493.40,62.02 493.80,60.44 494.20,58.69 494.60,56.79 495.00,54.79 495.40,52.71 495.80,50.62 496.20,48.56 496.60,46.57 497.00,44.71 497.40,42.99 497.80,41.43 498.20,40.05 498.60,38.84 499.00,37.79 499.40,36.90 499.80,36.13 500.20,35.48 500.60,34.94 501.00,34.47 501.40,34.08 501.80,33.75 502.20,33.47 502.60,33.23 503.00,33.03 503.40,32.85 503.80,32.69 504.20,32.55 504.60,32.43 505.00,32.32 505.40,32.22 505.80,32.12 506.20,32.04 507.70,31.74 509.20,31.48 510.70,31.19 512.20,30.88 513.70,30.57 515.20,30.23 515.60,30.09 516.00,29.96 516.40,29.84 516.80,29.74 517.20,29.65 517.60,29.57 518.00,29.51 518.40,29.46 518.80,29.33 519.20,29.18 519.60,29.04 520.00,28.93 520.40,28.82 520.80,28.54 521.20,28.07 521.60,27.62 522.00,27.19 522.40,26.30 522.80,25.42 523.20,24.56 523.60,22.89 524.00,21.24 524.40,19.60" fill="none" stroke="#1f77e0" stroke-width="1.2" stroke-linejoin="round" stroke-linecap="round" />
<polyline points="428.40,95.00 429.90,94.39 431.40,93.78 432.90,93.18 434.40,92.57 435.90,91.96 437.40,91.35 438.90,90.75 440.40,90.20 441.90,89.84 443.40,89.48 444.90,89.12 446.40,88.76 447.90,88.40 449.40,88.04 450.90,87.68 452.40,87.32 453.90,86.96 455.40,86.63 456.90,86.36 458.40,86.09 459.90,85.82 461.40,85.55 462.90,85.28 464.40,85.01 465.90,84.74 467.40,84.47 468.90,84.20 470.40,83.91 471.90,83.56 473.40,83.22 474.90,82.87 476.40,82.53 477.90,82.18 479.40,81.83 480.90,81.55 482.40,81.32 483.90,81.05 485.40,80.72 485.80,80.61 486.20,80.49 486.60,80.35 487.00,80.19 487.40,80.01 487.80,79.80 488.20,79.56 488.60,79.27 489.00,78.92 489.40,78.51 489.80,78.02 490.20,77.44 490.60,76.74 491.00,75.92 491.40,74.94 491.80,73.79 492.20,72.45 492.60,70.90 493.00,69.15 493.40,67.19 493.80,65.03 494.20,62.69 494.60,60.20 495.00,57.63 495.40,55.04 495.80,52.49 496.20,50.03 496.60,47.72 497.00,45.60 497.40,43.68 497.80,41.98 498.20,40.49 498.60,39.20 499.00,38.10 499.40,37.16 499.80,36.37 500.20,35.71 500.60,35.16 501.00,34.69 501.40,34.30 501.80,33.97 502.20,33.69 502.60,33.45 503.00,33.24 503.40,33.06 503.80,32.91 504.20,32.78 504.60,32.66 505.00,32.55 505.40,32.45 505.80,32.36 506.20,32.27 507.70,31.99 509.20,31.73 510.70,31.46 512.20,31.16 513.70,30.86 515.20,30.53 515.60,30.39 516.00,30.27 516.40,30.17 516.80,30.09 517.20,30.03 517.60,29.99 518.00,29.97 518.40,29.98 518.80,29.90 519.20,29.82 519.60,29.76 520.00,29.72 520.40,29.72 520.80,29.53 521.20,29.17 521.60,28.84 522.00,28.54 522.40,27.78 522.80,27.05 523.20,26.34 523.60,24.83 524.00,23.35 524.40,21.90" fill="none" stroke="#00a870" stroke-width="1.2" stroke-linejoin="round" stroke-linecap="round" />
<polyline points="428.40,99.70 429.90,99.09 431.40,98.48 432.90,97.88 434.40,97.27 435.90,96.66 437.40,96.05 438.90,95.45 440.40,94.91 441.90,94.57 443.40,94.23 444.90,93.89 446.40,93.55 447.90,93.21 449.40,92.87 450.90,92.53 452.40,92.19 453.90,91.85 455.40,91.51 456.90,91.19 458.40,90.87 459.90,90.55 461.40,90.23 462.90,89.91 464.40,89.59 465.90,89.27 467.40,88.95 468.90,88.63 470.40,88.33 471.90,88.06 473.40,87.79 474.90,87.52 476.40,87.25 477.90,86.97 479.40,86.70 480.90,86.40 482.40,86.07 483.90,85.71 485.40,85.27 485.80,85.12 486.20,84.97 486.60,84.79 487.00,84.59 487.40,84.37 487.80,84.11 488.20,83.80 488.60,83.45 489.00,83.03 489.40,82.53 489.80,81.94 490.20,81.24 490.60,80.42 491.00,79.44 491.40,78.29 491.80,76.94 492.20,75.39 492.60,73.61 493.00,71.60 493.40,69.37 493.80,66.95 494.20,64.34 494.60,61.60 495.00,58.79 495.40,55.99 495.80,53.26 496.20,50.66 496.60,48.23 497.00,46.01 497.40,44.03 497.80,42.27 498.20,40.75 498.60,39.44 499.00,38.32 499.40,37.38 499.80,36.58 500.20,35.92 500.60,35.36 501.00,34.89 501.40,34.50 501.80,34.17 502.20,33.90 502.60,33.66 503.00,33.46 503.40,33.28 503.80,33.13 504.20,33.00 504.60,32.88 505.00,32.78 505.40,32.68 505.80,32.59 506.20,32.51 507.70,32.24 509.20,31.99 510.70,31.73 512.20,31.44 513.70,31.15 515.20,30.83 515.60,30.70 516.00,30.59 516.40,30.50 516.80,30.44 517.20,30.41 517.60,30.41 518.00,30.43 518.40,30.49 518.80,30.48 519.20,30.46 519.60,30.47 520.00,30.52 520.40,30.61 520.80,30.52 521.20,30.27 521.60,30.06 522.00,29.88 522.40,29.26 522.80,28.67 523.20,28.12 523.60,26.78 524.00,25.47 524.40,24.20" fill="none" stroke="#b266ff" stroke-width="1.2" stroke-linejoin="round" stroke-linecap="round" />
<rect x="412.30" y="6.40" width="125.10" height="99.90" fill="none" stroke="#000" stroke-width="1.3"/>
<line x1="410.30" y1="6.80" x2="412.30" y2="6.80" stroke="#000" stroke-width="0.8" />
<text font-family='"Liberation Serif", serif' font-size="6.4" fill="#333" stroke="#333" stroke-width="0.14" font-weight="normal" text-anchor="middle"><tspan x="402.07 405.12 408.18" y="8.90" font-size="6.40">1.0</tspan></text>
<line x1="410.30" y1="18.50" x2="412.30" y2="18.50" stroke="#000" stroke-width="0.8" />
<text font-family='"Liberation Serif", serif' font-size="6.4" fill="#333" stroke="#333" stroke-width="0.14" font-weight="normal" text-anchor="middle"><tspan x="402.07 405.12 408.18" y="20.60" font-size="6.40">0.5</tspan></text>
<line x1="410.30" y1="30.20" x2="412.30" y2="30.20" stroke="#000" stroke-width="0.8" />
<text font-family='"Liberation Serif", serif' font-size="6.4" fill="#333" stroke="#333" stroke-width="0.14" font-weight="normal" text-anchor="middle"><tspan x="402.07 405.12 408.18" y="32.30" font-size="6.40">0.0</tspan></text>
<line x1="410.30" y1="41.90" x2="412.30" y2="41.90" stroke="#000" stroke-width="0.8" />
<text font-family='"Liberation Serif", serif' font-size="6.4" fill="#333" stroke="#333" stroke-width="0.14" font-weight="normal" text-anchor="middle"><tspan x="399.02 402.07 405.12 408.18" y="44.00" font-size="6.40">-0.5</tspan></text>
<line x1="410.30" y1="53.60" x2="412.30" y2="53.60" stroke="#000" stroke-width="0.8" />
<text font-family='"Liberation Serif", serif' font-size="6.4" fill="#333" stroke="#333" stroke-width="0.14" font-weight="normal" text-anchor="middle"><tspan x="399.02 402.07 405.12 408.18" y="55.70" font-size="6.40">-1.0</tspan></text>
<line x1="410.30" y1="65.30" x2="412.30" y2="65.30" stroke="#000" stroke-width="0.8" />
<text font-family='"Liberation Serif", serif' font-size="6.4" fill="#333" stroke="#333" stroke-width="0.14" font-weight="normal" text-anchor="middle"><tspan x="399.02 402.07 405.12 408.18" y="67.40" font-size="6.40">-1.5</tspan></text>
<line x1="410.30" y1="77.00" x2="412.30" y2="77.00" stroke="#000" stroke-width="0.8" />
<text font-family='"Liberation Serif", serif' font-size="6.4" fill="#333" stroke="#333" stroke-width="0.14" font-weight="normal" text-anchor="middle"><tspan x="399.02 402.07 405.12 408.18" y="79.10" font-size="6.40">-2.0</tspan></text>
<line x1="410.30" y1="88.70" x2="412.30" y2="88.70" stroke="#000" stroke-width="0.8" />
<text font-family='"Liberation Serif", serif' font-size="6.4" fill="#333" stroke="#333" stroke-width="0.14" font-weight="normal" text-anchor="middle"><tspan x="399.02 402.07 405.12 408.18" y="90.80" font-size="6.40">-2.5</tspan></text>
<line x1="410.30" y1="100.40" x2="412.30" y2="100.40" stroke="#000" stroke-width="0.8" />
<text font-family='"Liberation Serif", serif' font-size="6.4" fill="#333" stroke="#333" stroke-width="0.14" font-weight="normal" text-anchor="middle"><tspan x="399.02 402.07 405.12 408.18" y="102.50" font-size="6.40">-3.0</tspan></text>
<line x1="413.00" y1="106.30" x2="413.00" y2="108.30" stroke="#000" stroke-width="0.8" />
<text font-family='"Liberation Serif", serif' font-size="6.4" fill="#333" stroke="#333" stroke-width="0.14" font-weight="normal" text-anchor="middle"><tspan x="409.93 413.00 416.07" y="115.10" font-size="6.40">0.0</tspan></text>
<line x1="432.15" y1="106.30" x2="432.15" y2="108.30" stroke="#000" stroke-width="0.8" />
<text font-family='"Liberation Serif", serif' font-size="6.4" fill="#333" stroke="#333" stroke-width="0.14" font-weight="normal" text-anchor="middle"><tspan x="429.08 432.15 435.22" y="115.10" font-size="6.40">0.2</tspan></text>
<line x1="451.30" y1="106.30" x2="451.30" y2="108.30" stroke="#000" stroke-width="0.8" />
<text font-family='"Liberation Serif", serif' font-size="6.4" fill="#333" stroke="#333" stroke-width="0.14" font-weight="normal" text-anchor="middle"><tspan x="448.23 451.30 454.37" y="115.10" font-size="6.40">0.4</tspan></text>
<line x1="470.45" y1="106.30" x2="470.45" y2="108.30" stroke="#000" stroke-width="0.8" />
<text font-family='"Liberation Serif", serif' font-size="6.4" fill="#333" stroke="#333" stroke-width="0.14" font-weight="normal" text-anchor="middle"><tspan x="467.38 470.45 473.52" y="115.10" font-size="6.40">0.6</tspan></text>
<line x1="489.60" y1="106.30" x2="489.60" y2="108.30" stroke="#000" stroke-width="0.8" />
<text font-family='"Liberation Serif", serif' font-size="6.4" fill="#333" stroke="#333" stroke-width="0.14" font-weight="normal" text-anchor="middle"><tspan x="486.53 489.60 492.67" y="115.10" font-size="6.40">0.8</tspan></text>
<line x1="508.75" y1="106.30" x2="508.75" y2="108.30" stroke="#000" stroke-width="0.8" />
<text font-family='"Liberation Serif", serif' font-size="6.4" fill="#333" stroke="#333" stroke-width="0.14" font-weight="normal" text-anchor="middle"><tspan x="505.68 508.75 511.82" y="115.10" font-size="6.40">1.0</tspan></text>
<line x1="527.90" y1="106.30" x2="527.90" y2="108.30" stroke="#000" stroke-width="0.8" />
<text font-family='"Liberation Serif", serif' font-size="6.4" fill="#333" stroke="#333" stroke-width="0.14" font-weight="normal" text-anchor="middle"><tspan x="524.83 527.90 530.97" y="115.10" font-size="6.40">1.2</tspan></text>
<text font-family='"Liberation Serif", serif' font-size="6.2" fill="#444" stroke="#444" stroke-width="0.14" font-weight="normal" text-anchor="middle"><tspan x="446.90 450.00 453.10 456.20 459.30 462.40 465.50 468.60 471.70 474.80 477.90 484.10 487.20 490.30 493.40 496.50 499.60 502.70" y="123.40" font-size="6.20">Potential(Vvs.RHE)</tspan></text>
<text transform="translate(391.60,51.50) rotate(-90)" font-family='"Liberation Serif", serif' font-size="7" fill="#444" stroke="#444" stroke-width="0.14" font-weight="normal" text-anchor="middle"><tspan x="-36.32 -32.96 -29.59 -26.23 -22.87 -19.50 -16.14 -9.42 -6.05 -2.69 0.67 4.04 7.40 10.76 14.12 17.49 20.85 24.21 27.58 30.94" y="0.00" font-size="7.00">Currentdensity(mA/cm</tspan><tspan x="33.63" y="-2.40" font-size="4.20">2</tspan><tspan x="36.32" y="0.00" font-size="7.00">)</tspan></text>
<text x="374.20" y="17.10" font-family='"Liberation Sans", sans-serif' font-size="10" fill="#222" text-anchor="start" font-weight="bold" >c</text>
<line x1="423.00" y1="14.40" x2="434.40" y2="14.40" stroke="#3a3a3a" stroke-width="1.3" />
<text font-family='"Liberation Serif", serif' font-size="5.3" fill="#444" stroke="#444" stroke-width="0.14" font-weight="normal" text-anchor="middle"><tspan x="438.26 440.78 443.30" y="16.20" font-size="5.30">400</tspan></text>
<line x1="423.00" y1="20.30" x2="434.40" y2="20.30" stroke="#ff3333" stroke-width="1.3" />
<text font-family='"Liberation Serif", serif' font-size="5.3" fill="#444" stroke="#444" stroke-width="0.14" font-weight="normal" text-anchor="middle"><tspan x="438.26 440.78 443.30" y="22.10" font-size="5.30">625</tspan></text>
<line x1="423.00" y1="25.90" x2="434.40" y2="25.90" stroke="#1f77e0" stroke-width="1.3" />
<text font-family='"Liberation Serif", serif' font-size="5.3" fill="#444" stroke="#444" stroke-width="0.14" font-weight="normal" text-anchor="middle"><tspan x="438.26 440.78 443.30 445.82" y="27.70" font-size="5.30">1225</tspan></text>
<line x1="423.00" y1="31.70" x2="434.40" y2="31.70" stroke="#00a870" stroke-width="1.3" />
<text font-family='"Liberation Serif", serif' font-size="5.3" fill="#444" stroke="#444" stroke-width="0.14" font-weight="normal" text-anchor="middle"><tspan x="438.26 440.78 443.30 445.82" y="33.50" font-size="5.30">1600</tspan></text>
<line x1="423.00" y1="37.30" x2="434.40" y2="37.30" stroke="#b266ff" stroke-width="1.3" />
<text font-family='"Liberation Serif", serif' font-size="5.3" fill="#444" stroke="#444" stroke-width="0.14" font-weight="normal" text-anchor="middle"><tspan x="438.26 440.78 443.30 445.82" y="39.10" font-size="5.30">2025</tspan></text>
<line x1="34.70" y1="176.50" x2="174.00" y2="176.50" stroke="#222" stroke-width="1.0" stroke-dasharray="4.3 3.45" stroke-dashoffset="4.35"/>
<polyline points="34.70,168.60 35.85,168.59 37.34,168.57 39.11,168.55 41.10,168.53 43.25,168.50 45.49,168.47 47.76,168.44 50.00,168.40 52.28,168.36 54.67,168.32 57.16,168.27 59.71,168.22 62.29,168.17 64.89,168.11 67.47,168.06 70.00,168.00 72.53,167.93 75.12,167.85 77.72,167.77 80.31,167.68 82.87,167.60 85.35,167.54 87.74,167.51 90.00,167.50 92.11,167.53 94.10,167.58 95.99,167.65 97.81,167.74 99.59,167.84 101.37,167.95 103.16,168.08 105.00,168.20 106.89,168.33 108.80,168.48 110.73,168.63 112.64,168.80 114.54,168.97 116.41,169.15 118.24,169.32 120.00,169.50 121.73,169.68 123.46,169.86 125.17,170.04 126.83,170.23 128.43,170.42 129.96,170.61 131.39,170.81 132.70,171.00 133.88,171.19 134.93,171.39 135.87,171.59 136.74,171.79 137.57,171.99 138.36,172.19 139.17,172.39 140.00,172.60 140.83,172.81 141.61,173.04 142.37,173.27 143.12,173.49 143.88,173.72 144.67,173.93 145.50,174.13 146.40,174.30 147.36,174.46 148.36,174.60 149.40,174.73 150.48,174.84 151.58,174.95 152.70,175.04 153.84,175.13 155.00,175.20 156.19,175.26 157.42,175.30 158.69,175.34 159.97,175.36 161.26,175.37 162.54,175.38 163.79,175.39 165.00,175.40 166.23,175.41 167.53,175.41 168.84,175.41 170.12,175.41 171.33,175.41 172.41,175.40 173.31,175.40 174.00,175.40" fill="none" stroke="#ff1010" stroke-width="1.3" stroke-linejoin="round" stroke-linecap="round" />
<polyline points="34.70,165.40 35.26,165.48 36.00,165.58 36.87,165.71 37.85,165.84 38.89,165.99 39.95,166.13 41.00,166.27 42.00,166.40 42.95,166.52 43.90,166.64 44.86,166.76 45.83,166.88 46.82,167.00 47.84,167.11 48.90,167.21 50.00,167.30 51.15,167.38 52.36,167.46 53.60,167.53 54.88,167.59 56.16,167.65 57.45,167.71 58.74,167.75 60.00,167.80 61.25,167.84 62.50,167.87 63.75,167.90 65.00,167.92 66.25,167.94 67.50,167.96 68.75,167.98 70.00,168.00 71.25,168.02 72.50,168.04 73.75,168.06 75.00,168.08 76.25,168.10 77.50,168.13 78.75,168.16 80.00,168.20 81.22,168.25 82.38,168.29 83.53,168.35 84.69,168.41 85.88,168.47 87.15,168.54 88.51,168.62 90.00,168.70 91.64,168.79 93.40,168.89 95.26,169.00 97.19,169.12 99.16,169.24 101.13,169.36 103.09,169.48 105.00,169.60 106.89,169.72 108.80,169.85 110.73,169.98 112.64,170.11 114.54,170.24 116.41,170.37 118.24,170.49 120.00,170.60 121.73,170.70 123.46,170.78 125.17,170.86 126.83,170.93 128.43,171.01 129.96,171.09 131.39,171.19 132.70,171.30 133.88,171.43 134.93,171.57 135.87,171.73 136.74,171.89 137.57,172.06 138.36,172.23 139.17,172.41 140.00,172.60 140.83,172.80 141.61,173.02 142.37,173.24 143.12,173.47 143.88,173.70 144.67,173.92 145.50,174.12 146.40,174.30 147.36,174.45 148.36,174.60 149.40,174.72 150.48,174.84 151.58,174.94 152.70,175.04 153.84,175.12 155.00,175.20 156.19,175.27 157.42,175.32 158.69,175.37 159.97,175.40 161.26,175.43 162.54,175.45 163.79,175.48 165.00,175.50 166.23,175.52 167.53,175.54 168.84,175.56 170.12,175.57 171.33,175.58 172.41,175.59 173.31,175.59 174.00,175.60" fill="none" stroke="#000" stroke-width="1.3" stroke-linejoin="round" stroke-linecap="round" />
<polyline points="34.70,193.60 35.85,193.55 37.34,193.49 39.11,193.42 41.10,193.34 43.25,193.26 45.49,193.17 47.76,193.08 50.00,193.00 52.28,192.92 54.67,192.83 57.16,192.75 59.71,192.66 62.29,192.57 64.89,192.48 67.47,192.39 70.00,192.30 72.47,192.20 74.88,192.10 77.28,192.00 79.69,191.90 82.13,191.80 84.65,191.70 87.26,191.60 90.00,191.50 92.98,191.41 96.22,191.31 99.61,191.22 103.04,191.13 106.41,191.04 109.60,190.96 112.50,190.88 115.00,190.80 117.08,190.73 118.84,190.67 120.34,190.61 121.64,190.56 122.83,190.50 123.95,190.44 125.09,190.38 126.30,190.30 127.57,190.22 128.84,190.14 130.08,190.05 131.28,189.96 132.42,189.86 133.50,189.76 134.50,189.64 135.40,189.50 136.19,189.35 136.87,189.18 137.47,189.00 138.01,188.81 138.50,188.61 138.96,188.41 139.42,188.20 139.90,188.00 140.38,187.80 140.83,187.61 141.26,187.42 141.67,187.22 142.07,187.02 142.48,186.80 142.88,186.56 143.30,186.30 143.73,186.01 144.15,185.68 144.58,185.33 145.00,184.97 145.43,184.61 145.85,184.25 146.28,183.91 146.70,183.60 147.12,183.31 147.52,183.04 147.93,182.78 148.33,182.53 148.74,182.28 149.17,182.05 149.62,181.82 150.10,181.60 150.60,181.38 151.12,181.17 151.66,180.97 152.21,180.77 152.78,180.59 153.37,180.41 153.98,180.25 154.60,180.10 155.25,179.97 155.92,179.85 156.61,179.74 157.32,179.64 158.04,179.55 158.76,179.47 159.48,179.39 160.20,179.30 160.90,179.21 161.58,179.13 162.26,179.05 162.95,178.98 163.66,178.90 164.39,178.83 165.17,178.76 166.00,178.70 166.95,178.64 168.03,178.58 169.19,178.52 170.36,178.46 171.49,178.41 172.51,178.37 173.37,178.33 174.00,178.30" fill="none" stroke="#ff1010" stroke-width="1.4" stroke-linejoin="round" stroke-linecap="round" />
<polyline points="34.70,211.40 35.26,211.47 36.00,211.56 36.87,211.66 37.85,211.78 38.89,211.90 39.95,212.02 41.00,212.12 42.00,212.20 42.88,212.26 43.67,212.32 44.42,212.36 45.21,212.40 46.09,212.43 47.14,212.46 48.42,212.48 50.00,212.50 51.93,212.52 54.16,212.53 56.62,212.54 59.25,212.54 61.97,212.54 64.72,212.54 67.42,212.52 70.00,212.50 72.53,212.47 75.12,212.44 77.72,212.39 80.31,212.34 82.87,212.29 85.35,212.23 87.74,212.17 90.00,212.10 92.15,212.03 94.22,211.95 96.21,211.86 98.12,211.77 99.96,211.68 101.72,211.59 103.40,211.49 105.00,211.40 106.53,211.31 107.99,211.21 109.38,211.11 110.69,211.01 111.91,210.91 113.04,210.81 114.07,210.71 115.00,210.60 115.79,210.49 116.43,210.38 116.96,210.27 117.41,210.16 117.80,210.05 118.18,209.93 118.56,209.82 119.00,209.70 119.46,209.58 119.92,209.46 120.36,209.34 120.80,209.21 121.23,209.09 121.66,208.96 122.08,208.83 122.50,208.70 122.92,208.57 123.33,208.44 123.74,208.31 124.14,208.17 124.54,208.04 124.93,207.90 125.32,207.75 125.70,207.60 126.08,207.44 126.46,207.28 126.83,207.11 127.20,206.94 127.56,206.77 127.92,206.59 128.26,206.40 128.60,206.20 128.93,206.00 129.24,205.79 129.55,205.58 129.85,205.36 130.14,205.13 130.43,204.89 130.72,204.65 131.00,204.40 131.27,204.15 131.52,203.91 131.75,203.67 131.99,203.42 132.23,203.15 132.49,202.84 132.78,202.50 133.10,202.10 133.47,201.64 133.87,201.13 134.31,200.57 134.76,199.99 135.21,199.38 135.66,198.78 136.09,198.18 136.50,197.60 136.88,197.03 137.24,196.46 137.59,195.89 137.94,195.32 138.28,194.75 138.61,194.19 138.95,193.64 139.30,193.10 139.65,192.57 140.00,192.05 140.35,191.54 140.69,191.03 141.04,190.53 141.39,190.05 141.75,189.57 142.10,189.10 142.46,188.64 142.82,188.19 143.18,187.75 143.55,187.32 143.92,186.90 144.28,186.49 144.64,186.09 145.00,185.70 145.34,185.32 145.67,184.96 145.98,184.61 146.30,184.26 146.63,183.92 146.98,183.59 147.37,183.25 147.80,182.90 148.27,182.54 148.78,182.17 149.31,181.80 149.87,181.43 150.45,181.07 151.05,180.72 151.67,180.40 152.30,180.10 152.95,179.83 153.61,179.58 154.30,179.35 155.01,179.13 155.73,178.93 156.47,178.74 157.23,178.57 158.00,178.40 158.78,178.25 159.57,178.11 160.36,177.98 161.18,177.87 162.03,177.77 162.91,177.67 163.83,177.58 164.80,177.50 165.90,177.42 167.15,177.36 168.48,177.30 169.83,177.24 171.12,177.20 172.29,177.16 173.27,177.13 174.00,177.10" fill="none" stroke="#000" stroke-width="1.4" stroke-linejoin="round" stroke-linecap="round" />
<rect x="34.70" y="126.80" width="139.30" height="92.00" fill="none" stroke="#000" stroke-width="1.6"/>
<line x1="32.70" y1="136.38" x2="34.70" y2="136.38" stroke="#000" stroke-width="0.9" />
<text x="31.70" y="138.58" font-family='"Liberation Serif", serif' font-size="6.2" fill="#333" text-anchor="end" font-weight="bold" >1.2</text>
<line x1="32.70" y1="150.02" x2="34.70" y2="150.02" stroke="#000" stroke-width="0.9" />
<text x="31.70" y="152.22" font-family='"Liberation Serif", serif' font-size="6.2" fill="#333" text-anchor="end" font-weight="bold" >0.8</text>
<line x1="32.70" y1="163.66" x2="34.70" y2="163.66" stroke="#000" stroke-width="0.9" />
<text x="31.70" y="165.86" font-family='"Liberation Serif", serif' font-size="6.2" fill="#333" text-anchor="end" font-weight="bold" >0.4</text>
<line x1="32.70" y1="177.30" x2="34.70" y2="177.30" stroke="#000" stroke-width="0.9" />
<text x="31.70" y="179.50" font-family='"Liberation Serif", serif' font-size="6.2" fill="#333" text-anchor="end" font-weight="bold" >0.0</text>
<line x1="32.70" y1="190.94" x2="34.70" y2="190.94" stroke="#000" stroke-width="0.9" />
<text x="31.70" y="193.14" font-family='"Liberation Serif", serif' font-size="6.2" fill="#333" text-anchor="end" font-weight="bold" >-0.4</text>
<line x1="32.70" y1="204.58" x2="34.70" y2="204.58" stroke="#000" stroke-width="0.9" />
<text x="31.70" y="206.78" font-family='"Liberation Serif", serif' font-size="6.2" fill="#333" text-anchor="end" font-weight="bold" >-0.8</text>
<line x1="32.70" y1="218.22" x2="34.70" y2="218.22" stroke="#000" stroke-width="0.9" />
<text x="31.70" y="220.42" font-family='"Liberation Serif", serif' font-size="6.2" fill="#333" text-anchor="end" font-weight="bold" >-1.2</text>
<line x1="34.70" y1="218.80" x2="34.70" y2="220.80" stroke="#000" stroke-width="0.9" />
<text x="34.70" y="226.60" font-family='"Liberation Serif", serif' font-size="7" fill="#222" text-anchor="middle" font-weight="bold" >0.2</text>
<line x1="69.50" y1="218.80" x2="69.50" y2="220.80" stroke="#000" stroke-width="0.9" />
<text x="69.50" y="226.60" font-family='"Liberation Serif", serif' font-size="7" fill="#222" text-anchor="middle" font-weight="bold" >0.4</text>
<line x1="104.30" y1="218.80" x2="104.30" y2="220.80" stroke="#000" stroke-width="0.9" />
<text x="104.30" y="226.60" font-family='"Liberation Serif", serif' font-size="7" fill="#222" text-anchor="middle" font-weight="bold" >0.6</text>
<line x1="139.10" y1="218.80" x2="139.10" y2="220.80" stroke="#000" stroke-width="0.9" />
<text x="139.10" y="226.60" font-family='"Liberation Serif", serif' font-size="7" fill="#222" text-anchor="middle" font-weight="bold" >0.8</text>
<line x1="173.90" y1="218.80" x2="173.90" y2="220.80" stroke="#000" stroke-width="0.9" />
<text x="173.90" y="226.60" font-family='"Liberation Serif", serif' font-size="7" fill="#222" text-anchor="middle" font-weight="bold" >1.0</text>
<text font-family='"Liberation Serif", serif' font-size="6.6" fill="#333" stroke="#333" stroke-width="0.14" font-weight="normal" text-anchor="middle"><tspan x="71.32 74.76 78.21 81.65 85.09 88.53 91.97 95.42 98.86 102.30 105.74 112.63 116.07 119.51 122.95 126.39 129.84 133.28" y="235.20" font-size="6.60">Potential(Vvs.RHE)</tspan></text>
<text transform="translate(16.80,172.90) rotate(-90)" font-family='"Liberation Serif", serif' font-size="7" fill="#555" stroke="#555" stroke-width="0.14" font-weight="normal" text-anchor="middle"><tspan x="-36.32 -32.96 -29.59 -26.23 -22.87 -19.50 -16.14 -9.42 -6.05 -2.69 0.67 4.04 7.40 10.76 14.12 17.49 20.85 24.21 27.58 30.94" y="0.00" font-size="7.00">Currentdensity(mA/cm</tspan><tspan x="33.63" y="-2.20" font-size="4.20">2</tspan><tspan x="36.32" y="0.00" font-size="7.00">)</tspan></text>
<text x="3.20" y="140.40" font-family='"Liberation Sans", sans-serif' font-size="10" fill="#222" text-anchor="start" font-weight="normal" >d</text>
<line x1="120.80" y1="135.00" x2="133.10" y2="135.00" stroke="#ff1010" stroke-width="1.5" />
<text x="135.80" y="137.00" font-family='"Liberation Serif", serif' font-size="5.2" fill="#333" text-anchor="start" font-weight="normal" textLength="23.9" lengthAdjust="spacingAndGlyphs" >NSCL-800</text>
<line x1="120.80" y1="140.50" x2="133.10" y2="140.50" stroke="#000" stroke-width="1.5" />
<text x="135.80" y="142.50" font-family='"Liberation Serif", serif' font-size="5.2" fill="#333" text-anchor="start" font-weight="normal" textLength="21" lengthAdjust="spacingAndGlyphs" >20%Pt/C</text>
<text x="148.10" y="167.60" font-family='"Liberation Serif", serif' font-size="5.4" fill="#222" text-anchor="start" font-weight="bold" textLength="20.9" lengthAdjust="spacingAndGlyphs" >100Ring</text>
<text x="156.00" y="190.60" font-family='"Liberation Serif", serif' font-size="5.4" fill="#222" text-anchor="start" font-weight="bold" textLength="10.7" lengthAdjust="spacingAndGlyphs" >Disk</text>
<line x1="234.40" y1="127.60" x2="362.70" y2="127.80" stroke="#000" stroke-width="1.2" />
<polyline points="234.40,127.90 239.64,127.90 246.79,127.90 255.32,127.89 264.70,127.89 274.39,127.89 283.86,127.89 292.58,127.89 300.00,127.90 306.35,127.91 312.22,127.93 317.67,127.95 322.73,127.97 327.44,128.00 331.87,128.03 336.04,128.06 340.00,128.10 343.76,128.14 347.28,128.20 350.54,128.25 353.50,128.31 356.15,128.37 358.47,128.42 360.43,128.47 362.00,128.50" fill="none" stroke="#ff1010" stroke-width="1.6" stroke-linejoin="round" stroke-linecap="round" />
<polyline points="234.90,213.90 238.55,213.88 243.59,213.85 249.61,213.81 256.20,213.78 262.94,213.73 269.43,213.69 275.26,213.64 280.00,213.60 283.70,213.55 286.76,213.50 289.34,213.45 291.57,213.40 293.60,213.35 295.59,213.30 297.67,213.25 300.00,213.20 302.53,213.15 305.12,213.10 307.72,213.04 310.31,212.99 312.87,212.94 315.35,212.91 317.74,212.89 320.00,212.90 322.14,212.93 324.20,212.98 326.17,213.04 328.06,213.12 329.89,213.21 331.65,213.30 333.35,213.40 335.00,213.50 336.53,213.61 337.91,213.73 339.20,213.86 340.44,213.99 341.68,214.13 342.99,214.26 344.41,214.39 346.00,214.50 347.87,214.61 350.02,214.71 352.34,214.82 354.69,214.91 356.95,215.00 359.01,215.08 360.73,215.15 362.00,215.20" fill="none" stroke="#444" stroke-width="1.0" stroke-linejoin="round" stroke-linecap="round" />
<polyline points="234.90,214.60 240.09,214.60 247.19,214.60 255.65,214.60 264.95,214.59 274.57,214.59 283.96,214.59 292.62,214.60 300.00,214.60 306.37,214.61 312.35,214.63 317.94,214.65 323.13,214.67 327.93,214.69 332.35,214.70 336.37,214.71 340.00,214.70 343.13,214.68 345.70,214.66 347.81,214.63 349.56,214.59 351.06,214.55 352.40,214.51 353.68,214.45 355.00,214.40 356.31,214.34 357.48,214.26 358.52,214.17 359.44,214.08 360.24,213.99 360.93,213.91 361.51,213.85 362.00,213.80" fill="none" stroke="#ff2020" stroke-width="1.5" stroke-linejoin="round" stroke-linecap="round" />
<rect x="234.40" y="123.50" width="128.30" height="93.00" fill="none" stroke="#000" stroke-width="1.25"/>
<line x1="234.40" y1="170.00" x2="362.70" y2="170.00" stroke="#000" stroke-width="1.4" />
<line x1="232.40" y1="128.10" x2="234.40" y2="128.10" stroke="#000" stroke-width="0.9" />
<text x="231.60" y="130.00" font-family='"Liberation Serif", serif' font-size="5.6" fill="#222" text-anchor="end" font-weight="bold" >4</text>
<line x1="232.40" y1="138.60" x2="234.40" y2="138.60" stroke="#000" stroke-width="0.9" />
<text x="231.60" y="140.50" font-family='"Liberation Serif", serif' font-size="5.6" fill="#222" text-anchor="end" font-weight="bold" >3</text>
<line x1="232.40" y1="149.10" x2="234.40" y2="149.10" stroke="#000" stroke-width="0.9" />
<text x="231.60" y="151.00" font-family='"Liberation Serif", serif' font-size="5.6" fill="#222" text-anchor="end" font-weight="bold" >2</text>
<line x1="232.40" y1="159.60" x2="234.40" y2="159.60" stroke="#000" stroke-width="0.9" />
<text x="231.60" y="161.50" font-family='"Liberation Serif", serif' font-size="5.6" fill="#222" text-anchor="end" font-weight="bold" >1</text>
<line x1="232.40" y1="169.90" x2="234.40" y2="169.90" stroke="#000" stroke-width="0.9" />
<text x="231.60" y="171.80" font-family='"Liberation Serif", serif' font-size="5.6" fill="#222" text-anchor="end" font-weight="bold" >100</text>
<line x1="232.40" y1="179.16" x2="234.40" y2="179.16" stroke="#000" stroke-width="0.9" />
<text x="231.60" y="181.06" font-family='"Liberation Serif", serif' font-size="5.6" fill="#222" text-anchor="end" font-weight="bold" >80</text>
<line x1="232.40" y1="188.42" x2="234.40" y2="188.42" stroke="#000" stroke-width="0.9" />
<text x="231.60" y="190.32" font-family='"Liberation Serif", serif' font-size="5.6" fill="#222" text-anchor="end" font-weight="bold" >60</text>
<line x1="232.40" y1="197.68" x2="234.40" y2="197.68" stroke="#000" stroke-width="0.9" />
<text x="231.60" y="199.58" font-family='"Liberation Serif", serif' font-size="5.6" fill="#222" text-anchor="end" font-weight="bold" >40</text>
<line x1="232.40" y1="206.94" x2="234.40" y2="206.94" stroke="#000" stroke-width="0.9" />
<text x="231.60" y="208.84" font-family='"Liberation Serif", serif' font-size="5.6" fill="#222" text-anchor="end" font-weight="bold" >20</text>
<line x1="232.40" y1="216.20" x2="234.40" y2="216.20" stroke="#000" stroke-width="0.9" />
<text x="231.60" y="218.10" font-family='"Liberation Serif", serif' font-size="5.6" fill="#222" text-anchor="end" font-weight="bold" >0</text>
<line x1="235.20" y1="216.50" x2="235.20" y2="218.50" stroke="#000" stroke-width="0.8" />
<text x="235.20" y="223.90" font-family='"Liberation Serif", serif' font-size="5.6" fill="#222" text-anchor="middle" font-weight="bold" >0.2</text>
<line x1="254.90" y1="216.50" x2="254.90" y2="218.50" stroke="#000" stroke-width="0.8" />
<text x="254.90" y="223.90" font-family='"Liberation Serif", serif' font-size="5.6" fill="#222" text-anchor="middle" font-weight="bold" >0.3</text>
<line x1="274.60" y1="216.50" x2="274.60" y2="218.50" stroke="#000" stroke-width="0.8" />
<text x="274.60" y="223.90" font-family='"Liberation Serif", serif' font-size="5.6" fill="#222" text-anchor="middle" font-weight="bold" >0.4</text>
<line x1="294.30" y1="216.50" x2="294.30" y2="218.50" stroke="#000" stroke-width="0.8" />
<text x="294.30" y="223.90" font-family='"Liberation Serif", serif' font-size="5.6" fill="#222" text-anchor="middle" font-weight="bold" >0.5</text>
<line x1="314.00" y1="216.50" x2="314.00" y2="218.50" stroke="#000" stroke-width="0.8" />
<text x="314.00" y="223.90" font-family='"Liberation Serif", serif' font-size="5.6" fill="#222" text-anchor="middle" font-weight="bold" >0.6</text>
<line x1="333.70" y1="216.50" x2="333.70" y2="218.50" stroke="#000" stroke-width="0.8" />
<text x="333.70" y="223.90" font-family='"Liberation Serif", serif' font-size="5.6" fill="#222" text-anchor="middle" font-weight="bold" >0.7</text>
<line x1="353.40" y1="216.50" x2="353.40" y2="218.50" stroke="#000" stroke-width="0.8" />
<text x="353.40" y="223.90" font-family='"Liberation Serif", serif' font-size="5.6" fill="#222" text-anchor="middle" font-weight="bold" >0.8</text>
<text font-family='"Liberation Serif", serif' font-size="5.6" fill="#333" stroke="#333" stroke-width="0.14" font-weight="normal" text-anchor="middle"><tspan x="273.76 276.47 279.19 281.91 284.62 287.34 290.05 292.77 295.48 298.20 300.92 306.35 309.06 311.78 314.49 317.21 319.93 322.64" y="230.00" font-size="5.60">Potential(Vvs.RHE)</tspan></text>
<text x="212.50" y="146.90" font-family='"Liberation Sans", sans-serif' font-size="11" fill="#222" text-anchor="start" font-weight="normal" >e</text>
<text x="218.90" y="146.80" font-family='"Liberation Sans", sans-serif' font-size="4.6" fill="#777" text-anchor="start" font-weight="normal" >n</text>
<text transform="translate(220.6,189) rotate(-90)" font-family='"Liberation Serif", serif' font-size="4.8" fill="#333" text-anchor="middle">H<tspan font-size="3.4" dy="1">2</tspan><tspan dy="-1">O</tspan><tspan font-size="3.4" dy="1">2</tspan><tspan dy="-1">%</tspan></text>
<line x1="240.70" y1="159.60" x2="252.90" y2="159.60" stroke="#000" stroke-width="1.4" />
<text x="254.00" y="161.50" font-family='"Liberation Serif", serif' font-size="5.4" fill="#222" text-anchor="start" font-weight="bold" textLength="24.8" lengthAdjust="spacingAndGlyphs" >NSCL-900</text>
<line x1="239.50" y1="180.80" x2="251.80" y2="180.80" stroke="#ff1010" stroke-width="1.4" />
<text x="253.00" y="182.70" font-family='"Liberation Serif", serif' font-size="5.4" fill="#222" text-anchor="start" font-weight="bold" textLength="22.5" lengthAdjust="spacingAndGlyphs" >20% Pt/C</text>
<polyline points="424.30,205.77 431.92,202.07 441.44,198.36 453.67,191.78 469.99,185.19 492.84,176.96 527.11,164.62" fill="none" stroke="#222" stroke-width="1.0" stroke-linejoin="round" stroke-linecap="round" />
<circle cx="424.30" cy="205.77" r="1.3" fill="#000"/>
<circle cx="431.92" cy="202.07" r="1.3" fill="#000"/>
<circle cx="441.44" cy="198.36" r="1.3" fill="#000"/>
<circle cx="453.67" cy="191.78" r="1.3" fill="#000"/>
<circle cx="469.99" cy="185.19" r="1.3" fill="#000"/>
<circle cx="492.84" cy="176.96" r="1.3" fill="#000"/>
<circle cx="527.11" cy="164.62" r="1.3" fill="#000"/>
<polyline points="424.30,203.30 431.92,200.01 441.44,195.89 453.67,189.31 469.99,181.90 492.84,173.67 527.11,160.50" fill="none" stroke="#ff2020" stroke-width="1.0" stroke-linejoin="round" stroke-linecap="round" />
<circle cx="424.30" cy="203.30" r="1.3" fill="#ff0000"/>
<circle cx="431.92" cy="200.01" r="1.3" fill="#ff0000"/>
<circle cx="441.44" cy="195.89" r="1.3" fill="#ff0000"/>
<circle cx="453.67" cy="189.31" r="1.3" fill="#ff0000"/>
<circle cx="469.99" cy="181.90" r="1.3" fill="#ff0000"/>
<circle cx="492.84" cy="173.67" r="1.3" fill="#ff0000"/>
<circle cx="527.11" cy="160.50" r="1.3" fill="#ff0000"/>
<polyline points="424.30,201.24 431.92,197.54 441.44,193.42 453.67,186.84 469.99,179.43 492.84,170.38 527.11,156.39" fill="none" stroke="#4488ee" stroke-width="1.0" stroke-linejoin="round" stroke-linecap="round" />
<circle cx="424.30" cy="201.24" r="1.3" fill="#22dd22"/>
<circle cx="431.92" cy="197.54" r="1.3" fill="#22dd22"/>
<circle cx="441.44" cy="193.42" r="1.3" fill="#22dd22"/>
<circle cx="453.67" cy="186.84" r="1.3" fill="#22dd22"/>
<circle cx="469.99" cy="179.43" r="1.3" fill="#22dd22"/>
<circle cx="492.84" cy="170.38" r="1.3" fill="#22dd22"/>
<circle cx="527.11" cy="156.39" r="1.3" fill="#22dd22"/>
<polyline points="424.30,199.19 431.92,195.07 441.44,190.96 453.67,184.37 469.99,176.14 492.84,166.27 527.11,152.27" fill="none" stroke="#119966" stroke-width="1.0" stroke-linejoin="round" stroke-linecap="round" />
<circle cx="424.30" cy="199.19" r="1.3" fill="#2020dd"/>
<circle cx="431.92" cy="195.07" r="1.3" fill="#2020dd"/>
<circle cx="441.44" cy="190.96" r="1.3" fill="#2020dd"/>
<circle cx="453.67" cy="184.37" r="1.3" fill="#2020dd"/>
<circle cx="469.99" cy="176.14" r="1.3" fill="#2020dd"/>
<circle cx="492.84" cy="166.27" r="1.3" fill="#2020dd"/>
<circle cx="527.11" cy="152.27" r="1.3" fill="#2020dd"/>
<polyline points="424.30,196.72 431.92,193.01 441.44,188.49 453.67,181.90 469.99,173.67 492.84,162.97 527.11,148.16" fill="none" stroke="#cc99ee" stroke-width="1.0" stroke-linejoin="round" stroke-linecap="round" />
<circle cx="424.30" cy="196.72" r="1.3" fill="#22eeee"/>
<circle cx="431.92" cy="193.01" r="1.3" fill="#22eeee"/>
<circle cx="441.44" cy="188.49" r="1.3" fill="#22eeee"/>
<circle cx="453.67" cy="181.90" r="1.3" fill="#22eeee"/>
<circle cx="469.99" cy="173.67" r="1.3" fill="#22eeee"/>
<circle cx="492.84" cy="162.97" r="1.3" fill="#22eeee"/>
<circle cx="527.11" cy="148.16" r="1.3" fill="#22eeee"/>
<rect x="415.20" y="131.60" width="120.80" height="82.40" fill="none" stroke="#000" stroke-width="1.3"/>
<line x1="413.20" y1="131.70" x2="415.20" y2="131.70" stroke="#000" stroke-width="0.8" />
<text font-family='"Liberation Serif", serif' font-size="5.8" fill="#333" stroke="#333" stroke-width="0.14" font-weight="normal" text-anchor="middle"><tspan x="404.95 408.05 411.15" y="133.70" font-size="5.80">1.4</tspan></text>
<line x1="413.20" y1="139.93" x2="415.20" y2="139.93" stroke="#000" stroke-width="0.8" />
<text font-family='"Liberation Serif", serif' font-size="5.8" fill="#333" stroke="#333" stroke-width="0.14" font-weight="normal" text-anchor="middle"><tspan x="404.95 408.05 411.15" y="141.93" font-size="5.80">1.3</tspan></text>
<line x1="413.20" y1="148.16" x2="415.20" y2="148.16" stroke="#000" stroke-width="0.8" />
<text font-family='"Liberation Serif", serif' font-size="5.8" fill="#333" stroke="#333" stroke-width="0.14" font-weight="normal" text-anchor="middle"><tspan x="404.95 408.05 411.15" y="150.16" font-size="5.80">1.2</tspan></text>
<line x1="413.20" y1="156.39" x2="415.20" y2="156.39" stroke="#000" stroke-width="0.8" />
<text font-family='"Liberation Serif", serif' font-size="5.8" fill="#333" stroke="#333" stroke-width="0.14" font-weight="normal" text-anchor="middle"><tspan x="404.95 408.05 411.15" y="158.39" font-size="5.80">1.1</tspan></text>
<line x1="413.20" y1="164.62" x2="415.20" y2="164.62" stroke="#000" stroke-width="0.8" />
<text font-family='"Liberation Serif", serif' font-size="5.8" fill="#333" stroke="#333" stroke-width="0.14" font-weight="normal" text-anchor="middle"><tspan x="404.95 408.05 411.15" y="166.62" font-size="5.80">1.0</tspan></text>
<line x1="413.20" y1="172.85" x2="415.20" y2="172.85" stroke="#000" stroke-width="0.8" />
<text font-family='"Liberation Serif", serif' font-size="5.8" fill="#333" stroke="#333" stroke-width="0.14" font-weight="normal" text-anchor="middle"><tspan x="404.95 408.05 411.15" y="174.85" font-size="5.80">0.9</tspan></text>
<line x1="413.20" y1="181.08" x2="415.20" y2="181.08" stroke="#000" stroke-width="0.8" />
<text font-family='"Liberation Serif", serif' font-size="5.8" fill="#333" stroke="#333" stroke-width="0.14" font-weight="normal" text-anchor="middle"><tspan x="404.95 408.05 411.15" y="183.08" font-size="5.80">0.8</tspan></text>
<line x1="413.20" y1="189.31" x2="415.20" y2="189.31" stroke="#000" stroke-width="0.8" />
<text font-family='"Liberation Serif", serif' font-size="5.8" fill="#333" stroke="#333" stroke-width="0.14" font-weight="normal" text-anchor="middle"><tspan x="404.95 408.05 411.15" y="191.31" font-size="5.80">0.7</tspan></text>
<line x1="413.20" y1="197.54" x2="415.20" y2="197.54" stroke="#000" stroke-width="0.8" />
<text font-family='"Liberation Serif", serif' font-size="5.8" fill="#333" stroke="#333" stroke-width="0.14" font-weight="normal" text-anchor="middle"><tspan x="404.95 408.05 411.15" y="199.54" font-size="5.80">0.6</tspan></text>
<line x1="413.20" y1="205.77" x2="415.20" y2="205.77" stroke="#000" stroke-width="0.8" />
<text font-family='"Liberation Serif", serif' font-size="5.8" fill="#333" stroke="#333" stroke-width="0.14" font-weight="normal" text-anchor="middle"><tspan x="404.95 408.05 411.15" y="207.77" font-size="5.80">0.5</tspan></text>
<line x1="413.20" y1="214.00" x2="415.20" y2="214.00" stroke="#000" stroke-width="0.8" />
<text font-family='"Liberation Serif", serif' font-size="5.8" fill="#333" stroke="#333" stroke-width="0.14" font-weight="normal" text-anchor="middle"><tspan x="404.95 408.05 411.15" y="216.00" font-size="5.80">0.4</tspan></text>
<line x1="424.30" y1="214.00" x2="424.30" y2="216.00" stroke="#000" stroke-width="0.8" />
<text font-family='"Liberation Serif", serif' font-size="5.8" fill="#333" stroke="#333" stroke-width="0.14" font-weight="normal" text-anchor="middle"><tspan x="419.68 422.76 425.84 428.92" y="221.20" font-size="5.80">0.02</tspan></text>
<line x1="458.57" y1="214.00" x2="458.57" y2="216.00" stroke="#000" stroke-width="0.8" />
<text font-family='"Liberation Serif", serif' font-size="5.8" fill="#333" stroke="#333" stroke-width="0.14" font-weight="normal" text-anchor="middle"><tspan x="453.95 457.03 460.11 463.19" y="221.20" font-size="5.80">0.03</tspan></text>
<line x1="492.84" y1="214.00" x2="492.84" y2="216.00" stroke="#000" stroke-width="0.8" />
<text font-family='"Liberation Serif", serif' font-size="5.8" fill="#333" stroke="#333" stroke-width="0.14" font-weight="normal" text-anchor="middle"><tspan x="488.22 491.30 494.38 497.46" y="221.20" font-size="5.80">0.04</tspan></text>
<line x1="527.11" y1="214.00" x2="527.11" y2="216.00" stroke="#000" stroke-width="0.8" />
<text font-family='"Liberation Serif", serif' font-size="5.8" fill="#333" stroke="#333" stroke-width="0.14" font-weight="normal" text-anchor="middle"><tspan x="522.49 525.57 528.65 531.73" y="221.20" font-size="5.80">0.05</tspan></text>
<line x1="441.44" y1="214.00" x2="441.44" y2="215.20" stroke="#000" stroke-width="0.7" />
<line x1="475.71" y1="214.00" x2="475.71" y2="215.20" stroke="#000" stroke-width="0.7" />
<line x1="509.98" y1="214.00" x2="509.98" y2="215.20" stroke="#000" stroke-width="0.7" />
<text x="455.9" y="229.6" font-family='"Liberation Serif", serif' font-size="6.6" fill="#222" font-weight="bold" textLength="39.6" lengthAdjust="spacingAndGlyphs">ω<tspan font-size="4.6" dy="-2.6">-0.5</tspan><tspan dy="2.6"> (rpm</tspan><tspan font-size="4.6" dy="-2.6">-0.5</tspan><tspan dy="2.6">)</tspan></text>
<text transform="translate(392.2,170.7) rotate(-90) scale(0.893,1)" font-family='"Liberation Serif", serif' font-size="5.8" fill="#222" font-weight="bold" text-anchor="middle">J<tspan font-size="3.8" dy="-2.2">-1</tspan><tspan dy="2.2"> (mA</tspan><tspan font-size="3.8" dy="-2.2">-1</tspan><tspan dy="2.2"> cm</tspan><tspan font-size="3.8" dy="-2.2">2</tspan><tspan dy="2.2">)</tspan></text>
<text x="384.50" y="137.80" font-family='"Liberation Sans", sans-serif' font-size="10.5" fill="#222" text-anchor="start" font-weight="bold" >f</text>
<line x1="427.00" y1="140.80" x2="440.00" y2="140.80" stroke="#222" stroke-width="1.3" />
<circle cx="433.8" cy="140.8" r="1.2" fill="#000"/>
<text font-family='"Liberation Serif", serif' font-size="5.8" fill="#333" stroke="#333" stroke-width="0.14" font-weight="normal" text-anchor="middle"><tspan x="444.36 447.29 450.22" y="142.80" font-size="5.80">0.2</tspan></text>
<line x1="427.00" y1="146.40" x2="440.00" y2="146.40" stroke="#ff2020" stroke-width="1.3" />
<circle cx="433.8" cy="146.4" r="1.2" fill="#ff0000"/>
<text font-family='"Liberation Serif", serif' font-size="5.8" fill="#333" stroke="#333" stroke-width="0.14" font-weight="normal" text-anchor="middle"><tspan x="444.36 447.29 450.22" y="148.40" font-size="5.80">0.3</tspan></text>
<line x1="427.00" y1="152.00" x2="440.00" y2="152.00" stroke="#4488ee" stroke-width="1.3" />
<circle cx="433.8" cy="152.0" r="1.2" fill="#22dd22"/>
<text font-family='"Liberation Serif", serif' font-size="5.8" fill="#333" stroke="#333" stroke-width="0.14" font-weight="normal" text-anchor="middle"><tspan x="444.36 447.29 450.22" y="154.00" font-size="5.80">0.4</tspan></text>
<line x1="427.00" y1="157.40" x2="440.00" y2="157.40" stroke="#119966" stroke-width="1.3" />
<circle cx="433.8" cy="157.4" r="1.2" fill="#2020dd"/>
<text font-family='"Liberation Serif", serif' font-size="5.8" fill="#333" stroke="#333" stroke-width="0.14" font-weight="normal" text-anchor="middle"><tspan x="444.36 447.29 450.22" y="159.40" font-size="5.80">0.5</tspan></text>
<line x1="427.00" y1="163.00" x2="440.00" y2="163.00" stroke="#cc99ee" stroke-width="1.3" />
<circle cx="433.8" cy="163.0" r="1.2" fill="#22eeee"/>
<text font-family='"Liberation Serif", serif' font-size="5.8" fill="#333" stroke="#333" stroke-width="0.14" font-weight="normal" text-anchor="middle"><tspan x="444.36 447.29 450.22" y="165.00" font-size="5.80">0.6</tspan></text>
<polyline points="49.30,253.50 49.45,254.16 49.65,255.04 49.89,256.09 50.16,257.25 50.45,258.48 50.74,259.71 51.03,260.90 51.30,262.00 51.56,263.01 51.82,263.99 52.08,264.95 52.34,265.91 52.61,266.88 52.89,267.87 53.19,268.91 53.50,270.00 53.84,271.15 54.19,272.36 54.56,273.60 54.94,274.88 55.33,276.16 55.72,277.45 56.11,278.74 56.50,280.00 56.88,281.25 57.26,282.50 57.65,283.75 58.03,285.00 58.42,286.25 58.81,287.50 59.20,288.75 59.60,290.00 60.00,291.25 60.40,292.50 60.80,293.75 61.20,295.00 61.61,296.25 62.03,297.50 62.46,298.75 62.90,300.00 63.36,301.26 63.83,302.54 64.31,303.82 64.81,305.09 65.30,306.36 65.80,307.61 66.30,308.82 66.80,310.00 67.30,311.15 67.81,312.29 68.33,313.40 68.84,314.49 69.35,315.55 69.85,316.58 70.34,317.56 70.80,318.50 71.26,319.42 71.73,320.34 72.20,321.23 72.65,322.08 73.07,322.86 73.44,323.56 73.76,324.15 74.00,324.60" fill="none" stroke="#000" stroke-width="4.0" stroke-linejoin="round" stroke-linecap="round" stroke-linecap="square"/>
<polyline points="52.30,253.40 52.83,254.05 53.53,254.93 54.37,255.98 55.30,257.14 56.29,258.35 57.29,259.57 58.28,260.74 59.20,261.80 60.07,262.76 60.92,263.66 61.77,264.54 62.63,265.41 63.50,266.29 64.42,267.20 65.38,268.17 66.40,269.20 67.49,270.30 68.65,271.46 69.86,272.66 71.10,273.89 72.36,275.15 73.62,276.42 74.88,277.71 76.10,279.00 77.30,280.30 78.51,281.61 79.71,282.94 80.91,284.29 82.10,285.65 83.30,287.02 84.50,288.40 85.70,289.80 86.92,291.22 88.16,292.67 89.41,294.14 90.65,295.62 91.88,297.10 93.07,298.56 94.21,300.00 95.30,301.40 96.31,302.76 97.26,304.07 98.16,305.36 99.03,306.63 99.88,307.91 100.74,309.20 101.60,310.53 102.50,311.90 103.47,313.40 104.53,315.06 105.62,316.78 106.70,318.51 107.72,320.15 108.65,321.63 109.42,322.87 110.00,323.80" fill="none" stroke="#ff0000" stroke-width="4.0" stroke-linejoin="round" stroke-linecap="round" />
<polyline points="120.00,251.80 120.69,252.77 121.61,254.06 122.71,255.60 123.92,257.31 125.21,259.12 126.52,260.97 127.80,262.79 129.00,264.50 130.17,266.18 131.39,267.92 132.63,269.70 133.86,271.48 135.06,273.23 136.20,274.92 137.26,276.52 138.20,278.00 139.02,279.34 139.73,280.57 140.35,281.70 140.92,282.78 141.44,283.82 141.95,284.86 142.46,285.91 143.00,287.00 143.55,288.14 144.10,289.29 144.64,290.44 145.17,291.59 145.68,292.73 146.18,293.86 146.65,294.95 147.10,296.00 147.52,297.01 147.93,297.98 148.31,298.91 148.67,299.83 149.02,300.74 149.35,301.65 149.68,302.56 150.00,303.50 150.31,304.46 150.61,305.43 150.90,306.41 151.18,307.39 151.45,308.37 151.71,309.33 151.96,310.28 152.20,311.20 152.43,312.09 152.66,312.97 152.87,313.82 153.08,314.67 153.28,315.50 153.46,316.34 153.64,317.17 153.80,318.00 153.95,318.88 154.10,319.82 154.23,320.78 154.35,321.73 154.46,322.62 154.55,323.42 154.64,324.09 154.70,324.60" fill="none" stroke="#00ee00" stroke-width="3.9" stroke-linejoin="round" stroke-linecap="round" />
<polyline points="108.60,243.90 109.08,244.43 109.71,245.12 110.46,245.94 111.30,246.86 112.20,247.85 113.14,248.89 114.08,249.95 115.00,251.00 115.93,252.08 116.90,253.23 117.90,254.43 118.93,255.66 119.97,256.91 121.00,258.14 122.01,259.34 123.00,260.50 123.97,261.62 124.93,262.71 125.89,263.79 126.84,264.86 127.78,265.91 128.71,266.95 129.61,267.98 130.50,269.00 131.40,270.06 132.35,271.18 133.30,272.32 134.22,273.43 135.08,274.48 135.86,275.41 136.51,276.20 137.00,276.80" fill="none" stroke="#0000ff" stroke-width="4.0" stroke-linejoin="round" stroke-linecap="round" />
<rect x="41.50" y="239.90" width="123.80" height="91.30" fill="none" stroke="#000" stroke-width="1.3"/>
<line x1="39.50" y1="240.13" x2="41.50" y2="240.13" stroke="#000" stroke-width="0.8" />
<text font-family='"Liberation Serif", serif' font-size="6" fill="#333" stroke="#333" stroke-width="0.14" font-weight="normal" text-anchor="middle"><tspan x="27.65 30.75 33.85 36.95" y="242.13" font-size="6.00">0.94</tspan></text>
<line x1="39.50" y1="252.30" x2="41.50" y2="252.30" stroke="#000" stroke-width="0.8" />
<text font-family='"Liberation Serif", serif' font-size="6" fill="#333" stroke="#333" stroke-width="0.14" font-weight="normal" text-anchor="middle"><tspan x="27.65 30.75 33.85 36.95" y="254.30" font-size="6.00">0.92</tspan></text>
<line x1="39.50" y1="264.47" x2="41.50" y2="264.47" stroke="#000" stroke-width="0.8" />
<text font-family='"Liberation Serif", serif' font-size="6" fill="#333" stroke="#333" stroke-width="0.14" font-weight="normal" text-anchor="middle"><tspan x="27.65 30.75 33.85 36.95" y="266.47" font-size="6.00">0.90</tspan></text>
<line x1="39.50" y1="276.64" x2="41.50" y2="276.64" stroke="#000" stroke-width="0.8" />
<text font-family='"Liberation Serif", serif' font-size="6" fill="#333" stroke="#333" stroke-width="0.14" font-weight="normal" text-anchor="middle"><tspan x="27.65 30.75 33.85 36.95" y="278.64" font-size="6.00">0.88</tspan></text>
<line x1="39.50" y1="288.81" x2="41.50" y2="288.81" stroke="#000" stroke-width="0.8" />
<text font-family='"Liberation Serif", serif' font-size="6" fill="#333" stroke="#333" stroke-width="0.14" font-weight="normal" text-anchor="middle"><tspan x="27.65 30.75 33.85 36.95" y="290.81" font-size="6.00">0.86</tspan></text>
<line x1="39.50" y1="300.98" x2="41.50" y2="300.98" stroke="#000" stroke-width="0.8" />
<text font-family='"Liberation Serif", serif' font-size="6" fill="#333" stroke="#333" stroke-width="0.14" font-weight="normal" text-anchor="middle"><tspan x="27.65 30.75 33.85 36.95" y="302.98" font-size="6.00">0.84</tspan></text>
<line x1="39.50" y1="313.15" x2="41.50" y2="313.15" stroke="#000" stroke-width="0.8" />
<text font-family='"Liberation Serif", serif' font-size="6" fill="#333" stroke="#333" stroke-width="0.14" font-weight="normal" text-anchor="middle"><tspan x="27.65 30.75 33.85 36.95" y="315.15" font-size="6.00">0.82</tspan></text>
<line x1="39.50" y1="325.32" x2="41.50" y2="325.32" stroke="#000" stroke-width="0.8" />
<text font-family='"Liberation Serif", serif' font-size="6" fill="#333" stroke="#333" stroke-width="0.14" font-weight="normal" text-anchor="middle"><tspan x="27.65 30.75 33.85 36.95" y="327.32" font-size="6.00">0.80</tspan></text>
<line x1="52.00" y1="331.20" x2="52.00" y2="333.20" stroke="#000" stroke-width="0.8" />
<text font-family='"Liberation Serif", serif' font-size="6.2" fill="#333" stroke="#333" stroke-width="0.14" font-weight="normal" text-anchor="middle"><tspan x="47.32 50.44 53.56 56.68" y="340.20" font-size="6.20">−2.5</tspan></text>
<line x1="70.90" y1="331.20" x2="70.90" y2="333.20" stroke="#000" stroke-width="0.8" />
<text font-family='"Liberation Serif", serif' font-size="6.2" fill="#333" stroke="#333" stroke-width="0.14" font-weight="normal" text-anchor="middle"><tspan x="66.22 69.34 72.46 75.58" y="340.20" font-size="6.20">−2.0</tspan></text>
<line x1="89.80" y1="331.20" x2="89.80" y2="333.20" stroke="#000" stroke-width="0.8" />
<text font-family='"Liberation Serif", serif' font-size="6.2" fill="#333" stroke="#333" stroke-width="0.14" font-weight="normal" text-anchor="middle"><tspan x="85.12 88.24 91.36 94.48" y="340.20" font-size="6.20">−1.5</tspan></text>
<line x1="108.70" y1="331.20" x2="108.70" y2="333.20" stroke="#000" stroke-width="0.8" />
<text font-family='"Liberation Serif", serif' font-size="6.2" fill="#333" stroke="#333" stroke-width="0.14" font-weight="normal" text-anchor="middle"><tspan x="104.02 107.14 110.26 113.38" y="340.20" font-size="6.20">−1.0</tspan></text>
<line x1="127.60" y1="331.20" x2="127.60" y2="333.20" stroke="#000" stroke-width="0.8" />
<text font-family='"Liberation Serif", serif' font-size="6.2" fill="#333" stroke="#333" stroke-width="0.14" font-weight="normal" text-anchor="middle"><tspan x="122.92 126.04 129.16 132.28" y="340.20" font-size="6.20">−0.5</tspan></text>
<line x1="146.50" y1="331.20" x2="146.50" y2="333.20" stroke="#000" stroke-width="0.8" />
<text font-family='"Liberation Serif", serif' font-size="6.2" fill="#333" stroke="#333" stroke-width="0.14" font-weight="normal" text-anchor="middle"><tspan x="143.38 146.50 149.62" y="340.20" font-size="6.20">0.0</tspan></text>
<line x1="165.40" y1="331.20" x2="165.40" y2="333.20" stroke="#000" stroke-width="0.8" />
<text font-family='"Liberation Serif", serif' font-size="6.2" fill="#333" stroke="#333" stroke-width="0.14" font-weight="normal" text-anchor="middle"><tspan x="162.28 165.40 168.52" y="340.20" font-size="6.20">0.5</tspan></text>
<text font-family='"Liberation Serif", serif' font-size="6.4" fill="#333" stroke="#333" stroke-width="0.14" font-weight="normal" text-anchor="middle"><tspan x="80.65 83.88 87.11 90.35 93.58 96.81" y="349.40" font-size="6.40">Log(−J</tspan><tspan x="99.48" y="350.90" font-size="4.16">k</tspan><tspan x="102.15 105.38 108.62 115.08 118.32" y="349.40" font-size="6.40">/mAcm</tspan><tspan x="120.98 123.08" y="346.80" font-size="4.16">−2</tspan><tspan x="125.75" y="349.40" font-size="6.40">)</tspan></text>
<text transform="translate(23.00,280.00) rotate(-90)" font-family='"Liberation Serif", serif' font-size="5.4" fill="#444" stroke="#444" stroke-width="0.14" font-weight="normal" text-anchor="middle"><tspan x="-21.79 -19.37 -16.95 -14.53 -12.11 -9.68 -7.26 -4.84 -2.42 0.00 2.42 7.26 9.68 12.11 14.53 16.95 19.37 21.79" y="0.00" font-size="5.40">Potential(Vvs.RHE)</tspan></text>
<text x="3.80" y="251.60" font-family='"Liberation Serif", serif' font-size="10.3" fill="#222" text-anchor="start" font-weight="normal" >g</text>
<text font-family='"Liberation Serif", serif' font-size="3.9" fill="#555" font-weight="normal" text-anchor="middle"><tspan x="46.17 48.11 50.05 53.93 55.87 59.75 61.69 63.63" y="323.80" font-size="3.90">172mVdec</tspan><tspan x="65.18 66.35" y="322.40" font-size="2.34">−1</tspan></text>
<text font-family='"Liberation Serif", serif' font-size="3.9" fill="#555" font-weight="normal" text-anchor="middle"><tspan x="77.27 79.21 83.09 85.03 88.91 90.85 92.79" y="313.30" font-size="3.90">72mVdec</tspan><tspan x="94.34 95.51" y="311.90" font-size="2.34">−1</tspan></text>
<text font-family='"Liberation Serif", serif' font-size="3.9" fill="#555" font-weight="normal" text-anchor="middle"><tspan x="100.67 102.61 106.49 108.43 112.31 114.25 116.19" y="263.60" font-size="3.90">71mVdec</tspan><tspan x="117.74 118.91" y="262.20" font-size="2.34">−1</tspan></text>
<text font-family='"Liberation Serif", serif' font-size="3.9" fill="#555" font-weight="normal" text-anchor="middle"><tspan x="128.47 130.41 132.35 136.23 138.17 142.05 143.99 145.93" y="309.90" font-size="3.90">122mVdec</tspan><tspan x="147.48 148.65" y="308.50" font-size="2.34">−1</tspan></text>
<line x1="129.90" y1="245.90" x2="140.60" y2="245.90" stroke="#000" stroke-width="1.6" />
<circle cx="135.2" cy="245.9" r="1.7" fill="#000"/>
<text x="142.90" y="247.90" font-family='"Liberation Serif", serif' font-size="5.6" fill="#444" text-anchor="start" font-weight="normal" textLength="18.1" lengthAdjust="spacingAndGlyphs" >NNS-900</text>
<line x1="129.90" y1="251.30" x2="140.60" y2="251.30" stroke="#ff0000" stroke-width="1.6" />
<circle cx="135.2" cy="251.3" r="1.7" fill="#ff0000"/>
<text x="142.90" y="253.30" font-family='"Liberation Serif", serif' font-size="5.6" fill="#444" text-anchor="start" font-weight="normal" textLength="20.6" lengthAdjust="spacingAndGlyphs" >NSCL-900</text>
<line x1="129.90" y1="256.60" x2="140.60" y2="256.60" stroke="#1e6ef0" stroke-width="1.6" />
<polygon points="135.2,254.70000000000002 137.2,258.1 133.2,258.1" fill="#00ee00"/>
<text x="142.90" y="258.60" font-family='"Liberation Serif", serif' font-size="5.6" fill="#444" text-anchor="start" font-weight="normal" textLength="15.7" lengthAdjust="spacingAndGlyphs" >NS-900</text>
<line x1="129.90" y1="261.70" x2="140.60" y2="261.70" stroke="#16a878" stroke-width="1.6" />
<polygon points="135.2,263.59999999999997 137.2,260.2 133.2,260.2" fill="#0000ee"/>
<text x="142.90" y="263.70" font-family='"Liberation Serif", serif' font-size="5.6" fill="#444" text-anchor="start" font-weight="normal" textLength="18.1" lengthAdjust="spacingAndGlyphs" >20%Pt/C</text>
<polyline points="244.90,248.90 246.80,248.96 249.30,249.05 252.26,249.15 255.57,249.26 259.13,249.37 262.79,249.49 266.46,249.60 270.00,249.70 273.52,249.79 277.16,249.88 280.89,249.97 284.69,250.06 288.53,250.15 292.39,250.23 296.22,250.32 300.00,250.40 303.76,250.48 307.52,250.56 311.29,250.63 315.06,250.71 318.82,250.78 322.57,250.85 326.30,250.93 330.00,251.00 333.87,251.08 338.00,251.16 342.22,251.25 346.38,251.34 350.29,251.42 353.81,251.49 356.77,251.55 359.00,251.60" fill="none" stroke="#555" stroke-width="0.9" stroke-linejoin="round" stroke-linecap="round" />
<polyline points="244.90,248.90 246.80,249.02 249.30,249.18 252.26,249.37 255.57,249.57 259.13,249.79 262.79,250.01 266.46,250.22 270.00,250.40 273.52,250.57 277.16,250.72 280.89,250.88 284.69,251.03 288.53,251.17 292.39,251.31 296.22,251.46 300.00,251.60 303.76,251.74 307.52,251.89 311.29,252.03 315.06,252.17 318.82,252.31 322.57,252.45 326.30,252.58 330.00,252.70 333.87,252.82 338.00,252.94 342.22,253.06 346.38,253.17 350.29,253.27 353.81,253.36 356.77,253.44 359.00,253.50" fill="none" stroke="#ff3a3a" stroke-width="0.9" stroke-linejoin="round" stroke-linecap="round" />
<rect x="244.40" y="240.40" width="115.50" height="92.30" fill="none" stroke="#000" stroke-width="1.3"/>
<line x1="242.40" y1="248.90" x2="244.40" y2="248.90" stroke="#000" stroke-width="0.8" />
<text x="241.60" y="250.80" font-family='"Liberation Serif", serif' font-size="5.7" fill="#333" text-anchor="end" font-weight="normal" >100</text>
<line x1="242.40" y1="290.90" x2="244.40" y2="290.90" stroke="#000" stroke-width="0.8" />
<text x="241.60" y="292.80" font-family='"Liberation Serif", serif' font-size="5.7" fill="#333" text-anchor="end" font-weight="normal" >50</text>
<line x1="242.40" y1="332.90" x2="244.40" y2="332.90" stroke="#000" stroke-width="0.8" />
<text x="241.60" y="334.80" font-family='"Liberation Serif", serif' font-size="5.7" fill="#333" text-anchor="end" font-weight="normal" >0</text>
<line x1="283.00" y1="332.70" x2="283.00" y2="334.50" stroke="#000" stroke-width="0.8" />
<text x="283.30" y="340.40" font-family='"Liberation Serif", serif' font-size="5.6" fill="#333" text-anchor="middle" font-weight="normal" textLength="17.2" lengthAdjust="spacingAndGlyphs" >10, 000</text>
<line x1="359.90" y1="332.70" x2="359.90" y2="334.50" stroke="#000" stroke-width="0.8" />
<text x="360.20" y="340.40" font-family='"Liberation Serif", serif' font-size="5.6" fill="#333" text-anchor="middle" font-weight="normal" textLength="17.2" lengthAdjust="spacingAndGlyphs" >15, 000</text>
<text x="302.00" y="348.40" font-family='"Liberation Serif", serif' font-size="5.6" fill="#222" text-anchor="middle" font-weight="bold" textLength="20.1" lengthAdjust="spacingAndGlyphs" >Time (s)</text>
<text transform="translate(222.2,283) rotate(-90)" font-family='"Liberation Serif", serif' font-size="5.8" fill="#222" font-weight="bold" text-anchor="middle" textLength="70.5" lengthAdjust="spacingAndGlyphs">Relative Current density (%)</text>
<text x="203.30" y="252.80" font-family='"Liberation Sans", sans-serif' font-size="11" fill="#222" text-anchor="start" font-weight="normal" >h</text>
<line x1="315.80" y1="278.40" x2="325.50" y2="278.40" stroke="#666" stroke-width="0.7" />
<text x="327.80" y="279.90" font-family='"Liberation Serif", serif' font-size="5" fill="#333" text-anchor="start" font-weight="normal" textLength="20" lengthAdjust="spacingAndGlyphs" >NSCL-900</text>
<line x1="315.80" y1="283.40" x2="325.50" y2="283.40" stroke="#ff5050" stroke-width="0.7" />
<text x="327.80" y="284.80" font-family='"Liberation Serif", serif' font-size="5" fill="#333" text-anchor="start" font-weight="normal" textLength="19" lengthAdjust="spacingAndGlyphs" >20% Pt/C</text>
<line x1="455.40" y1="237.10" x2="455.40" y2="332.20" stroke="#444" stroke-width="0.85" stroke-dasharray="2.3 2.2"/>
<polyline points="423.20,237.60 423.55,237.73 424.00,237.90 424.53,238.11 425.14,238.34 425.80,238.59 426.50,238.85 427.24,239.12 428.00,239.40 428.79,239.69 429.62,240.00 430.49,240.33 431.40,240.67 432.35,241.01 433.33,241.35 434.35,241.68 435.40,242.00 436.49,242.30 437.65,242.59 438.84,242.88 440.06,243.16 441.30,243.44 442.55,243.72 443.78,244.00 445.00,244.30 446.26,244.61 447.59,244.94 448.96,245.28 450.31,245.62 451.60,245.95 452.78,246.26 453.79,246.55 454.60,246.80 455.15,247.00 455.47,247.16 455.61,247.29 455.65,247.41 455.64,247.52 455.66,247.65 455.76,247.80 456.00,248.00 456.33,248.22 456.68,248.45 457.05,248.68 457.46,248.94 457.95,249.23 458.52,249.56 459.20,249.95 460.00,250.40 460.98,250.95 462.13,251.59 463.41,252.29 464.76,253.04 466.15,253.79 467.51,254.52 468.81,255.20 470.00,255.80 471.08,256.33 472.11,256.81 473.09,257.26 474.05,257.67 474.99,258.07 475.92,258.45 476.85,258.83 477.80,259.20 478.75,259.56 479.67,259.91 480.58,260.23 481.49,260.55 482.41,260.86 483.36,261.17 484.36,261.48 485.40,261.80 486.46,262.12 487.51,262.44 488.58,262.76 489.69,263.08 490.86,263.40 492.12,263.72 493.49,264.06 495.00,264.40 496.69,264.76 498.55,265.15 500.54,265.55 502.61,265.95 504.72,266.35 506.82,266.72 508.86,267.08 510.80,267.40 512.64,267.69 514.42,267.95 516.16,268.19 517.89,268.42 519.61,268.63 521.36,268.83 523.15,269.02 525.00,269.20 527.02,269.38 529.25,269.55 531.57,269.71 533.89,269.86 536.09,270.00 538.08,270.12 539.75,270.22 541.00,270.30" fill="none" stroke="#333" stroke-width="1.2" stroke-linejoin="round" stroke-linecap="round" />
<polyline points="423.60,238.00 423.92,238.14 424.33,238.33 424.81,238.55 425.36,238.80 425.97,239.07 426.61,239.35 427.30,239.63 428.00,239.90 428.75,240.18 429.57,240.48 430.44,240.79 431.35,241.11 432.28,241.43 433.20,241.74 434.12,242.03 435.00,242.30 435.86,242.55 436.73,242.78 437.59,243.01 438.45,243.22 439.30,243.42 440.15,243.62 440.98,243.81 441.80,244.00 442.61,244.18 443.40,244.36 444.18,244.53 444.95,244.69 445.72,244.84 446.48,245.00 447.24,245.15 448.00,245.30 448.80,245.45 449.65,245.61 450.53,245.78 451.39,245.93 452.20,246.08 452.93,246.21 453.54,246.32 454.00,246.40" fill="none" stroke="#ff1a1a" stroke-width="2.7" stroke-linejoin="round" stroke-linecap="round" />
<line x1="454.70" y1="246.20" x2="454.90" y2="269.90" stroke="#ff1a1a" stroke-width="1.1" />
<polyline points="455.00,269.90 455.42,269.86 455.96,269.81 456.60,269.74 457.33,269.67 458.12,269.60 458.98,269.55 459.87,269.51 460.80,269.50 461.76,269.52 462.77,269.55 463.84,269.60 464.96,269.66 466.13,269.74 467.36,269.82 468.65,269.91 470.00,270.00 471.45,270.10 473.01,270.20 474.65,270.31 476.34,270.43 478.04,270.56 479.72,270.70 481.35,270.84 482.90,271.00 484.33,271.17 485.66,271.35 486.94,271.54 488.20,271.74 489.48,271.95 490.84,272.16 492.29,272.38 493.90,272.60 495.68,272.83 497.59,273.07 499.61,273.31 501.70,273.56 503.82,273.81 505.93,274.05 508.01,274.28 510.00,274.50 511.92,274.70 513.80,274.89 515.66,275.07 517.51,275.24 519.35,275.40 521.21,275.57 523.08,275.73 525.00,275.90 527.06,276.08 529.30,276.26 531.63,276.45 533.94,276.64 536.13,276.81 538.10,276.97 539.76,277.10 541.00,277.20" fill="none" stroke="#ff1a1a" stroke-width="1.3" stroke-linejoin="round" stroke-linecap="round" />
<rect x="422.90" y="237.10" width="118.80" height="95.10" fill="none" stroke="#000" stroke-width="1.3"/>
<line x1="420.90" y1="237.10" x2="422.90" y2="237.10" stroke="#000" stroke-width="0.8" />
<text x="420.10" y="239.00" font-family='"Liberation Serif", serif' font-size="5.7" fill="#333" text-anchor="end" font-weight="normal" >100</text>
<line x1="420.90" y1="269.10" x2="422.90" y2="269.10" stroke="#000" stroke-width="0.8" />
<text x="420.10" y="271.00" font-family='"Liberation Serif", serif' font-size="5.7" fill="#333" text-anchor="end" font-weight="normal" >80</text>
<line x1="420.90" y1="301.10" x2="422.90" y2="301.10" stroke="#000" stroke-width="0.8" />
<text x="420.10" y="303.00" font-family='"Liberation Serif", serif' font-size="5.7" fill="#333" text-anchor="end" font-weight="normal" >60</text>
<line x1="420.90" y1="333.10" x2="422.90" y2="333.10" stroke="#000" stroke-width="0.8" />
<text x="420.10" y="335.00" font-family='"Liberation Serif", serif' font-size="5.7" fill="#333" text-anchor="end" font-weight="normal" >40</text>
<line x1="447.70" y1="332.20" x2="447.70" y2="334.00" stroke="#000" stroke-width="0.8" />
<text x="448.20" y="340.90" font-family='"Liberation Serif", serif' font-size="5.7" fill="#333" text-anchor="middle" font-weight="normal" >500</text>
<line x1="479.00" y1="332.20" x2="479.00" y2="334.00" stroke="#000" stroke-width="0.8" />
<text x="479.50" y="340.90" font-family='"Liberation Serif", serif' font-size="5.7" fill="#333" text-anchor="middle" font-weight="normal" >1000</text>
<line x1="510.30" y1="332.20" x2="510.30" y2="334.00" stroke="#000" stroke-width="0.8" />
<text x="510.80" y="340.90" font-family='"Liberation Serif", serif' font-size="5.7" fill="#333" text-anchor="middle" font-weight="normal" >1500</text>
<line x1="541.60" y1="332.20" x2="541.60" y2="334.00" stroke="#000" stroke-width="0.8" />
<text x="542.10" y="340.90" font-family='"Liberation Serif", serif' font-size="5.7" fill="#333" text-anchor="middle" font-weight="normal" >2000</text>
<text x="482.50" y="348.40" font-family='"Liberation Serif", serif' font-size="5.6" fill="#222" text-anchor="middle" font-weight="bold" textLength="20.4" lengthAdjust="spacingAndGlyphs" >Time (s)</text>
<text transform="translate(408.4,284.7) rotate(-90)" font-family='"Liberation Serif", serif' font-size="5.8" fill="#222" font-weight="bold" text-anchor="middle" textLength="71.4" lengthAdjust="spacingAndGlyphs">Relative Current density (%)</text>
<text x="384.30" y="249.20" font-family='"Liberation Sans", sans-serif' font-size="11.5" fill="#555" text-anchor="start" font-weight="normal" >i</text>
<text x="457.20" y="307.30" font-family='"Liberation Serif", serif' font-size="4.4" fill="#333" text-anchor="start" font-weight="normal" textLength="17.7" lengthAdjust="spacingAndGlyphs" >3M CH<tspan font-size="3" dy="0.8">3</tspan><tspan dy="-0.8">OH</tspan></text>
<line x1="497.80" y1="299.40" x2="508.00" y2="299.40" stroke="#333" stroke-width="1.1" />
<text x="509.70" y="301.10" font-family='"Liberation Serif", serif' font-size="5" fill="#333" text-anchor="start" font-weight="normal" textLength="20.5" lengthAdjust="spacingAndGlyphs" >NSCL-900</text>
<line x1="497.80" y1="304.80" x2="508.00" y2="304.80" stroke="#ff1a1a" stroke-width="1.1" />
<text x="509.70" y="306.50" font-family='"Liberation Serif", serif' font-size="5" fill="#333" text-anchor="start" font-weight="normal" textLength="19.5" lengthAdjust="spacingAndGlyphs" >20% Pt/C</text>
</svg></body></html>
